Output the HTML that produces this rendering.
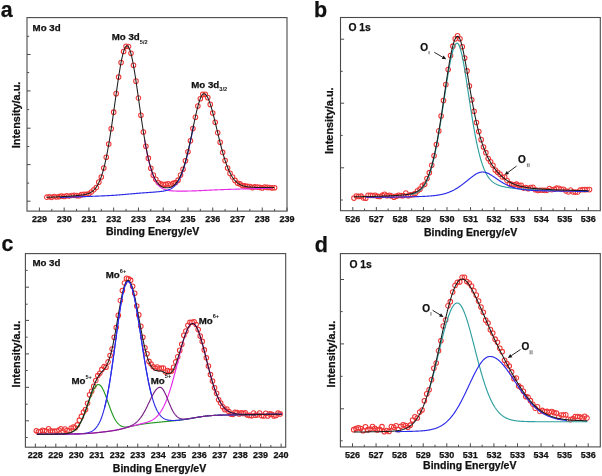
<!DOCTYPE html>
<html><head><meta charset="utf-8"><style>
html,body{margin:0;padding:0;background:#fff;width:602px;height:476px;overflow:hidden}
svg{display:block;filter:blur(0.35px)}
text{font-family:"Liberation Sans", sans-serif;font-weight:bold;fill:#111;stroke:#111;stroke-width:0.25px}
</style></head><body>
<svg width="602" height="476" viewBox="0 0 602 476">
<rect width="602" height="476" fill="#fff"/>
<rect x="27.00" y="17.60" width="260.00" height="193.50" fill="none" stroke="#4a4a4a" stroke-width="1.1"/>
<path d="M39.40,211.10 V207.50 M64.16,211.10 V207.50 M88.92,211.10 V207.50 M113.68,211.10 V207.50 M138.44,211.10 V207.50 M163.20,211.10 V207.50 M187.96,211.10 V207.50 M212.72,211.10 V207.50 M237.48,211.10 V207.50 M262.24,211.10 V207.50 M287.00,211.10 V207.50 M51.78,211.10 V208.90 M76.54,211.10 V208.90 M101.30,211.10 V208.90 M126.06,211.10 V208.90 M150.82,211.10 V208.90 M175.58,211.10 V208.90 M200.34,211.10 V208.90 M225.10,211.10 V208.90 M249.86,211.10 V208.90 M274.62,211.10 V208.90 M27.00,201.20 H30.60 M27.00,164.60 H30.60 M27.00,128.20 H30.60 M27.00,90.90 H30.60 M27.00,54.50 H30.60 M27.00,183.10 H29.20 M27.00,146.50 H29.20 M27.00,109.60 H29.20 M27.00,72.60 H29.20 M27.00,36.30 H29.20" stroke="#4a4a4a" stroke-width="1" fill="none"/>
<text x="0.80" y="16.90" font-size="21.30" text-anchor="start" >a</text>
<text x="39.40" y="222.30" font-size="9.00" text-anchor="middle" >229</text>
<text x="64.16" y="222.30" font-size="9.00" text-anchor="middle" >230</text>
<text x="88.92" y="222.30" font-size="9.00" text-anchor="middle" >231</text>
<text x="113.68" y="222.30" font-size="9.00" text-anchor="middle" >232</text>
<text x="138.44" y="222.30" font-size="9.00" text-anchor="middle" >233</text>
<text x="163.20" y="222.30" font-size="9.00" text-anchor="middle" >234</text>
<text x="187.96" y="222.30" font-size="9.00" text-anchor="middle" >235</text>
<text x="212.72" y="222.30" font-size="9.00" text-anchor="middle" >236</text>
<text x="237.48" y="222.30" font-size="9.00" text-anchor="middle" >237</text>
<text x="262.24" y="222.30" font-size="9.00" text-anchor="middle" >238</text>
<text x="287.00" y="222.30" font-size="9.00" text-anchor="middle" >239</text>
<text x="152.60" y="234.90" font-size="10.50" text-anchor="middle" >Binding Energy/eV</text>
<text x="0" y="0" font-size="10.90" text-anchor="middle" transform="translate(20.30,114.90) rotate(-90)">Intensity/a.u.</text>
<text x="32.60" y="30.60" font-size="9.70" text-anchor="start" >Mo 3d</text>
<text x="111.80" y="40.00" font-size="9.70" text-anchor="start" >Mo 3d<tspan font-size="5.6" stroke-width="0" dy="3.6">5/2</tspan></text>
<text x="191.30" y="87.50" font-size="9.70" text-anchor="start" >Mo 3d<tspan font-size="5.6" stroke-width="0" dy="3.4">3/2</tspan></text>
<path d="M44.53,197.18 a2.30,2.30 0 1,0 4.60,0 a2.30,2.30 0 1,0 -4.60,0 M47.00,196.86 a2.30,2.30 0 1,0 4.60,0 a2.30,2.30 0 1,0 -4.60,0 M49.48,197.34 a2.30,2.30 0 1,0 4.60,0 a2.30,2.30 0 1,0 -4.60,0 M51.96,196.52 a2.30,2.30 0 1,0 4.60,0 a2.30,2.30 0 1,0 -4.60,0 M54.43,196.95 a2.30,2.30 0 1,0 4.60,0 a2.30,2.30 0 1,0 -4.60,0 M56.91,196.62 a2.30,2.30 0 1,0 4.60,0 a2.30,2.30 0 1,0 -4.60,0 M59.38,196.12 a2.30,2.30 0 1,0 4.60,0 a2.30,2.30 0 1,0 -4.60,0 M61.86,196.52 a2.30,2.30 0 1,0 4.60,0 a2.30,2.30 0 1,0 -4.60,0 M64.34,195.80 a2.30,2.30 0 1,0 4.60,0 a2.30,2.30 0 1,0 -4.60,0 M66.81,196.12 a2.30,2.30 0 1,0 4.60,0 a2.30,2.30 0 1,0 -4.60,0 M69.29,195.52 a2.30,2.30 0 1,0 4.60,0 a2.30,2.30 0 1,0 -4.60,0 M71.76,195.36 a2.30,2.30 0 1,0 4.60,0 a2.30,2.30 0 1,0 -4.60,0 M74.24,195.55 a2.30,2.30 0 1,0 4.60,0 a2.30,2.30 0 1,0 -4.60,0 M76.72,195.79 a2.30,2.30 0 1,0 4.60,0 a2.30,2.30 0 1,0 -4.60,0 M79.19,194.64 a2.30,2.30 0 1,0 4.60,0 a2.30,2.30 0 1,0 -4.60,0 M81.67,194.36 a2.30,2.30 0 1,0 4.60,0 a2.30,2.30 0 1,0 -4.60,0 M84.14,194.27 a2.30,2.30 0 1,0 4.60,0 a2.30,2.30 0 1,0 -4.60,0 M86.62,193.79 a2.30,2.30 0 1,0 4.60,0 a2.30,2.30 0 1,0 -4.60,0 M89.10,192.05 a2.30,2.30 0 1,0 4.60,0 a2.30,2.30 0 1,0 -4.60,0 M91.57,189.85 a2.30,2.30 0 1,0 4.60,0 a2.30,2.30 0 1,0 -4.60,0 M94.05,187.58 a2.30,2.30 0 1,0 4.60,0 a2.30,2.30 0 1,0 -4.60,0 M96.52,182.13 a2.30,2.30 0 1,0 4.60,0 a2.30,2.30 0 1,0 -4.60,0 M99.00,177.01 a2.30,2.30 0 1,0 4.60,0 a2.30,2.30 0 1,0 -4.60,0 M101.48,168.07 a2.30,2.30 0 1,0 4.60,0 a2.30,2.30 0 1,0 -4.60,0 M103.95,157.20 a2.30,2.30 0 1,0 4.60,0 a2.30,2.30 0 1,0 -4.60,0 M106.43,143.96 a2.30,2.30 0 1,0 4.60,0 a2.30,2.30 0 1,0 -4.60,0 M108.90,128.70 a2.30,2.30 0 1,0 4.60,0 a2.30,2.30 0 1,0 -4.60,0 M111.38,112.17 a2.30,2.30 0 1,0 4.60,0 a2.30,2.30 0 1,0 -4.60,0 M113.86,93.63 a2.30,2.30 0 1,0 4.60,0 a2.30,2.30 0 1,0 -4.60,0 M116.33,77.07 a2.30,2.30 0 1,0 4.60,0 a2.30,2.30 0 1,0 -4.60,0 M118.81,62.46 a2.30,2.30 0 1,0 4.60,0 a2.30,2.30 0 1,0 -4.60,0 M121.28,51.46 a2.30,2.30 0 1,0 4.60,0 a2.30,2.30 0 1,0 -4.60,0 M123.76,46.35 a2.30,2.30 0 1,0 4.60,0 a2.30,2.30 0 1,0 -4.60,0 M126.24,46.55 a2.30,2.30 0 1,0 4.60,0 a2.30,2.30 0 1,0 -4.60,0 M128.71,53.32 a2.30,2.30 0 1,0 4.60,0 a2.30,2.30 0 1,0 -4.60,0 M131.19,65.28 a2.30,2.30 0 1,0 4.60,0 a2.30,2.30 0 1,0 -4.60,0 M133.66,81.14 a2.30,2.30 0 1,0 4.60,0 a2.30,2.30 0 1,0 -4.60,0 M136.14,97.97 a2.30,2.30 0 1,0 4.60,0 a2.30,2.30 0 1,0 -4.60,0 M138.62,115.24 a2.30,2.30 0 1,0 4.60,0 a2.30,2.30 0 1,0 -4.60,0 M141.09,131.95 a2.30,2.30 0 1,0 4.60,0 a2.30,2.30 0 1,0 -4.60,0 M143.57,146.27 a2.30,2.30 0 1,0 4.60,0 a2.30,2.30 0 1,0 -4.60,0 M146.04,158.16 a2.30,2.30 0 1,0 4.60,0 a2.30,2.30 0 1,0 -4.60,0 M148.52,168.25 a2.30,2.30 0 1,0 4.60,0 a2.30,2.30 0 1,0 -4.60,0 M151.00,175.15 a2.30,2.30 0 1,0 4.60,0 a2.30,2.30 0 1,0 -4.60,0 M153.47,179.36 a2.30,2.30 0 1,0 4.60,0 a2.30,2.30 0 1,0 -4.60,0 M155.95,182.55 a2.30,2.30 0 1,0 4.60,0 a2.30,2.30 0 1,0 -4.60,0 M158.42,183.76 a2.30,2.30 0 1,0 4.60,0 a2.30,2.30 0 1,0 -4.60,0 M160.90,184.49 a2.30,2.30 0 1,0 4.60,0 a2.30,2.30 0 1,0 -4.60,0 M163.38,184.31 a2.30,2.30 0 1,0 4.60,0 a2.30,2.30 0 1,0 -4.60,0 M165.85,183.85 a2.30,2.30 0 1,0 4.60,0 a2.30,2.30 0 1,0 -4.60,0 M168.33,184.77 a2.30,2.30 0 1,0 4.60,0 a2.30,2.30 0 1,0 -4.60,0 M170.80,183.41 a2.30,2.30 0 1,0 4.60,0 a2.30,2.30 0 1,0 -4.60,0 M173.28,182.46 a2.30,2.30 0 1,0 4.60,0 a2.30,2.30 0 1,0 -4.60,0 M175.76,180.16 a2.30,2.30 0 1,0 4.60,0 a2.30,2.30 0 1,0 -4.60,0 M178.23,175.06 a2.30,2.30 0 1,0 4.60,0 a2.30,2.30 0 1,0 -4.60,0 M180.71,169.28 a2.30,2.30 0 1,0 4.60,0 a2.30,2.30 0 1,0 -4.60,0 M183.18,160.72 a2.30,2.30 0 1,0 4.60,0 a2.30,2.30 0 1,0 -4.60,0 M185.66,151.73 a2.30,2.30 0 1,0 4.60,0 a2.30,2.30 0 1,0 -4.60,0 M188.14,140.70 a2.30,2.30 0 1,0 4.60,0 a2.30,2.30 0 1,0 -4.60,0 M190.61,128.58 a2.30,2.30 0 1,0 4.60,0 a2.30,2.30 0 1,0 -4.60,0 M193.09,117.21 a2.30,2.30 0 1,0 4.60,0 a2.30,2.30 0 1,0 -4.60,0 M195.56,106.11 a2.30,2.30 0 1,0 4.60,0 a2.30,2.30 0 1,0 -4.60,0 M198.04,98.71 a2.30,2.30 0 1,0 4.60,0 a2.30,2.30 0 1,0 -4.60,0 M200.52,94.40 a2.30,2.30 0 1,0 4.60,0 a2.30,2.30 0 1,0 -4.60,0 M202.99,94.35 a2.30,2.30 0 1,0 4.60,0 a2.30,2.30 0 1,0 -4.60,0 M205.47,97.62 a2.30,2.30 0 1,0 4.60,0 a2.30,2.30 0 1,0 -4.60,0 M207.94,104.40 a2.30,2.30 0 1,0 4.60,0 a2.30,2.30 0 1,0 -4.60,0 M210.42,113.02 a2.30,2.30 0 1,0 4.60,0 a2.30,2.30 0 1,0 -4.60,0 M212.90,122.28 a2.30,2.30 0 1,0 4.60,0 a2.30,2.30 0 1,0 -4.60,0 M215.37,132.84 a2.30,2.30 0 1,0 4.60,0 a2.30,2.30 0 1,0 -4.60,0 M217.85,142.25 a2.30,2.30 0 1,0 4.60,0 a2.30,2.30 0 1,0 -4.60,0 M220.32,152.41 a2.30,2.30 0 1,0 4.60,0 a2.30,2.30 0 1,0 -4.60,0 M222.80,160.61 a2.30,2.30 0 1,0 4.60,0 a2.30,2.30 0 1,0 -4.60,0 M225.28,167.98 a2.30,2.30 0 1,0 4.60,0 a2.30,2.30 0 1,0 -4.60,0 M227.75,173.38 a2.30,2.30 0 1,0 4.60,0 a2.30,2.30 0 1,0 -4.60,0 M230.23,177.07 a2.30,2.30 0 1,0 4.60,0 a2.30,2.30 0 1,0 -4.60,0 M232.70,180.43 a2.30,2.30 0 1,0 4.60,0 a2.30,2.30 0 1,0 -4.60,0 M235.18,183.10 a2.30,2.30 0 1,0 4.60,0 a2.30,2.30 0 1,0 -4.60,0 M237.66,183.95 a2.30,2.30 0 1,0 4.60,0 a2.30,2.30 0 1,0 -4.60,0 M240.13,185.57 a2.30,2.30 0 1,0 4.60,0 a2.30,2.30 0 1,0 -4.60,0 M242.61,185.94 a2.30,2.30 0 1,0 4.60,0 a2.30,2.30 0 1,0 -4.60,0 M245.08,186.33 a2.30,2.30 0 1,0 4.60,0 a2.30,2.30 0 1,0 -4.60,0 M247.56,186.55 a2.30,2.30 0 1,0 4.60,0 a2.30,2.30 0 1,0 -4.60,0 M250.04,187.58 a2.30,2.30 0 1,0 4.60,0 a2.30,2.30 0 1,0 -4.60,0 M252.51,186.92 a2.30,2.30 0 1,0 4.60,0 a2.30,2.30 0 1,0 -4.60,0 M254.99,187.12 a2.30,2.30 0 1,0 4.60,0 a2.30,2.30 0 1,0 -4.60,0 M257.46,187.33 a2.30,2.30 0 1,0 4.60,0 a2.30,2.30 0 1,0 -4.60,0 M259.94,187.92 a2.30,2.30 0 1,0 4.60,0 a2.30,2.30 0 1,0 -4.60,0 M262.42,186.97 a2.30,2.30 0 1,0 4.60,0 a2.30,2.30 0 1,0 -4.60,0 M264.89,187.40 a2.30,2.30 0 1,0 4.60,0 a2.30,2.30 0 1,0 -4.60,0 M267.37,187.50 a2.30,2.30 0 1,0 4.60,0 a2.30,2.30 0 1,0 -4.60,0 M269.84,187.88 a2.30,2.30 0 1,0 4.60,0 a2.30,2.30 0 1,0 -4.60,0 M272.32,187.78 a2.30,2.30 0 1,0 4.60,0 a2.30,2.30 0 1,0 -4.60,0" fill="none" stroke="#ee3535" stroke-width="1.05"/>
<path d="M144.60,139.91 L145.10,142.81 L145.60,145.62 L146.10,148.33 L146.60,150.93 L147.10,153.44 L147.60,155.84 L148.10,158.14 L148.60,160.34 L149.10,162.43 L149.60,164.42 L150.10,166.31 L150.60,168.10 L151.10,169.79 L151.60,171.39 L152.10,172.89 L152.60,174.31 L153.10,175.63 L153.60,176.87 L154.10,178.03 L154.60,179.11 L155.10,180.12 L155.60,181.06 L156.10,181.93 L156.60,182.73 L157.10,183.48 L157.60,184.17 L158.10,184.80 L158.60,185.38 L159.10,185.92 L159.60,186.41 L160.10,186.86 L160.60,187.27 L161.10,187.65 L161.60,187.99 L162.10,188.30 L162.60,188.59 L163.10,188.85 L163.60,189.08 L164.10,189.29 L164.60,189.48 L165.10,189.66 L165.60,189.81 L166.10,189.96 L166.60,190.08 L167.10,190.20 L167.60,190.30 L168.10,190.39 L168.60,190.48 L169.10,190.55 L169.60,190.62 L170.10,190.68 L170.60,190.73 L171.10,190.78 L171.60,190.82 L172.10,190.86 L172.60,190.89 L173.10,190.92 L173.60,190.95 L174.10,190.97 L174.60,190.99 L175.10,191.01 L175.60,191.03 L176.10,191.04 L176.60,191.06 L177.10,191.07 L177.60,191.07 L178.10,191.08 L178.60,191.09 L179.10,191.09 L179.60,191.10 L180.10,191.10 L180.60,191.10 L181.10,191.10 L181.60,191.10 L182.10,191.10 L182.60,191.10 L183.10,191.10 L183.60,191.10 L184.10,191.09 L184.60,191.09 L185.10,191.08 L185.60,191.08 L186.10,191.07 L186.60,191.06 L187.10,191.06 L187.60,191.05 L188.10,191.04 L188.60,191.03 L189.10,191.02 L189.60,191.01 L190.10,191.00 L190.60,190.98 L191.10,190.97 L191.60,190.96 L192.10,190.94 L192.60,190.93 L193.10,190.91 L193.60,190.89 L194.10,190.88 L194.60,190.86 L195.10,190.84 L195.60,190.82 L196.10,190.81 L196.60,190.79 L197.10,190.77 L197.60,190.75 L198.10,190.72 L198.60,190.70 L199.10,190.68 L199.60,190.66 L200.10,190.64 L200.60,190.61 L201.10,190.59 L201.60,190.57 L202.10,190.54 L202.60,190.52 L203.10,190.49 L203.60,190.47 L204.10,190.44 L204.60,190.42 L205.10,190.39 L205.60,190.37 L206.10,190.34 L206.60,190.32 L207.10,190.29 L207.60,190.27 L208.10,190.24 L208.60,190.22 L209.10,190.19 L209.60,190.17 L210.10,190.14 L210.60,190.12 L211.10,190.10 L211.60,190.07 L212.10,190.05 L212.60,190.02 L213.10,190.00 L213.60,189.98 L214.10,189.96 L214.60,189.93 L215.10,189.91 L215.60,189.89 L216.10,189.87 L216.60,189.84 L217.10,189.82 L217.60,189.80 L218.10,189.78 L218.60,189.76 L219.10,189.74 L219.60,189.72 L220.10,189.70 L220.60,189.68 L221.10,189.66 L221.60,189.64 L222.10,189.62 L222.60,189.60 L223.10,189.59 L223.60,189.57 L224.10,189.55 L224.60,189.53 L225.10,189.52 L225.60,189.50 L226.10,189.48 L226.60,189.46 L227.10,189.45 L227.60,189.43 L228.10,189.41 L228.60,189.40 L229.10,189.38 L229.60,189.37 L230.10,189.35 L230.60,189.34 L231.10,189.32 L231.60,189.30 L232.10,189.29 L232.60,189.27 L233.10,189.26 L233.60,189.24 L234.10,189.23 L234.60,189.21 L235.10,189.20 L235.60,189.18 L236.10,189.17 L236.60,189.15 L237.10,189.14 L237.60,189.12 L238.10,189.11 L238.60,189.10 L239.10,189.08 L239.60,189.07 L240.10,189.05 L240.60,189.04 L241.10,189.02 L241.60,189.01 L242.10,188.99 L242.60,188.98 L243.10,188.97 L243.60,188.95 L244.10,188.94 L244.60,188.92 L245.10,188.91 L245.60,188.89 L246.10,188.88 L246.60,188.86 L247.10,188.85 L247.60,188.83 L248.10,188.82 L248.60,188.81 L249.10,188.79 L249.60,188.78 L250.10,188.76 L250.60,188.75 L251.10,188.73 L251.60,188.72 L252.10,188.70 L252.60,188.69 L253.10,188.67 L253.60,188.66 L254.10,188.65 L254.60,188.63 L255.10,188.62 L255.60,188.60 L256.10,188.59 L256.60,188.57 L257.10,188.56 L257.60,188.54 L258.10,188.53 L258.60,188.51 L259.10,188.50 L259.60,188.48 L260.10,188.47 L260.60,188.45 L261.10,188.44 L261.60,188.42 L262.10,188.41 L262.60,188.39 L263.10,188.38 L263.60,188.36 L264.10,188.35 L264.60,188.34 L265.10,188.32 L265.60,188.31 L266.10,188.29 L266.60,188.28 L267.10,188.26 L267.60,188.25 L268.10,188.23 L268.60,188.22 L269.10,188.20 L269.60,188.19 L270.10,188.17 L270.60,188.16 L271.10,188.14 L271.60,188.13" fill="none" stroke="#e82ae8" stroke-width="1.15" stroke-linejoin="round"/>
<path d="M60.10,197.44 L60.60,197.42 L61.10,197.41 L61.60,197.39 L62.10,197.37 L62.60,197.36 L63.10,197.34 L63.60,197.32 L64.10,197.30 L64.60,197.29 L65.10,197.27 L65.60,197.25 L66.10,197.24 L66.60,197.22 L67.10,197.20 L67.60,197.18 L68.10,197.17 L68.60,197.15 L69.10,197.13 L69.60,197.12 L70.10,197.10 L70.60,197.08 L71.10,197.06 L71.60,197.05 L72.10,197.03 L72.60,197.01 L73.10,197.00 L73.60,196.98 L74.10,196.96 L74.60,196.94 L75.10,196.93 L75.60,196.91 L76.10,196.89 L76.60,196.87 L77.10,196.86 L77.60,196.84 L78.10,196.82 L78.60,196.80 L79.10,196.79 L79.60,196.77 L80.10,196.75 L80.60,196.73 L81.10,196.72 L81.60,196.70 L82.10,196.68 L82.60,196.66 L83.10,196.65 L83.60,196.63 L84.10,196.61 L84.60,196.59 L85.10,196.57 L85.60,196.56 L86.10,196.54 L86.60,196.52 L87.10,196.50 L87.60,196.48 L88.10,196.47 L88.60,196.45 L89.10,196.43 L89.60,196.41 L90.10,196.39 L90.60,196.38 L91.10,196.36 L91.60,196.34 L92.10,196.32 L92.60,196.30 L93.10,196.28 L93.60,196.26 L94.10,196.25 L94.60,196.23 L95.10,196.21 L95.60,196.19 L96.10,196.17 L96.60,196.15 L97.10,196.13 L97.60,196.11 L98.10,196.09 L98.60,196.07 L99.10,196.05 L99.60,196.03 L100.10,196.01 L100.60,195.99 L101.10,195.97 L101.60,195.94 L102.10,195.92 L102.60,195.90 L103.10,195.88 L103.60,195.86 L104.10,195.83 L104.60,195.81 L105.10,195.79 L105.60,195.76 L106.10,195.74 L106.60,195.71 L107.10,195.69 L107.60,195.66 L108.10,195.64 L108.60,195.61 L109.10,195.58 L109.60,195.55 L110.10,195.53 L110.60,195.50 L111.10,195.47 L111.60,195.44 L112.10,195.41 L112.60,195.38 L113.10,195.34 L113.60,195.31 L114.10,195.28 L114.60,195.25 L115.10,195.21 L115.60,195.18 L116.10,195.14 L116.60,195.11 L117.10,195.07 L117.60,195.03 L118.10,194.99 L118.60,194.95 L119.10,194.92 L119.60,194.88 L120.10,194.84 L120.60,194.80 L121.10,194.75 L121.60,194.71 L122.10,194.67 L122.60,194.63 L123.10,194.58 L123.60,194.54 L124.10,194.50 L124.60,194.45 L125.10,194.41 L125.60,194.36 L126.10,194.32 L126.60,194.27 L127.10,194.23 L127.60,194.18 L128.10,194.14 L128.60,194.09 L129.10,194.05 L129.60,194.00 L130.10,193.96 L130.60,193.91 L131.10,193.87 L131.60,193.83 L132.10,193.78 L132.60,193.74 L133.10,193.69 L133.60,193.65 L134.10,193.61 L134.60,193.56 L135.10,193.52 L135.60,193.48 L136.10,193.44 L136.60,193.40 L137.10,193.35 L137.60,193.31 L138.10,193.27 L138.60,193.23 L139.10,193.19 L139.60,193.16 L140.10,193.12 L140.60,193.08 L141.10,193.04 L141.60,193.00 L142.10,192.97 L142.60,192.93 L143.10,192.89 L143.60,192.86 L144.10,192.82 L144.60,192.78 L145.10,192.75 L145.60,192.71 L146.10,192.68 L146.60,192.64 L147.10,192.61 L147.60,192.57 L148.10,192.53 L148.60,192.50 L149.10,192.46 L149.60,192.43 L150.10,192.39 L150.60,192.36 L151.10,192.32 L151.60,192.28 L152.10,192.25 L152.60,192.21 L153.10,192.17 L153.60,192.14 L154.10,192.10 L154.60,192.06 L155.10,192.02 L155.60,191.98 L156.10,191.94 L156.60,191.89 L157.10,191.85 L157.60,191.80 L158.10,191.76 L158.60,191.71 L159.10,191.66 L159.60,191.60 L160.10,191.55 L160.60,191.49 L161.10,191.43 L161.60,191.36 L162.10,191.29 L162.60,191.22 L163.10,191.14 L163.60,191.06 L164.10,190.97 L164.60,190.88 L165.10,190.77 L165.60,190.66 L166.10,190.55 L166.60,190.42 L167.10,190.28 L167.60,190.13 L168.10,189.96 L168.60,189.79 L169.10,189.59 L169.60,189.38 L170.10,189.15 L170.60,188.91 L171.10,188.64 L171.60,188.34 L172.10,188.02 L172.60,187.68 L173.10,187.30 L173.60,186.90 L174.10,186.46 L174.60,185.98 L175.10,185.47 L175.60,184.91 L176.10,184.31 L176.60,183.67 L177.10,182.98 L177.60,182.23 L178.10,181.44 L178.60,180.58 L179.10,179.67 L179.60,178.70 L180.10,177.67 L180.60,176.57 L181.10,175.41 L181.60,174.18 L182.10,172.88 L182.60,171.51 L183.10,170.07 L183.60,168.55 L184.10,166.97 L184.60,165.31 L185.10,163.58 L185.60,161.77 L186.10,159.90 L186.60,157.96 L187.10,155.96 L187.60,153.89 L188.10,151.76 L188.60,149.58 L189.10,147.35 L189.60,145.06 L190.10,142.74 L190.60,140.38 L191.10,137.99 L191.60,135.58 L192.10,133.16 L192.60,130.72 L193.10,128.29 L193.60,125.87" fill="none" stroke="#2a2ae8" stroke-width="1.15" stroke-linejoin="round"/>
<path d="M46.60,197.40 L47.10,197.38 L47.60,197.35 L48.10,197.33 L48.60,197.31 L49.10,197.28 L49.60,197.26 L50.10,197.24 L50.60,197.21 L51.10,197.19 L51.60,197.17 L52.10,197.14 L52.60,197.12 L53.10,197.09 L53.60,197.07 L54.10,197.04 L54.60,197.02 L55.10,196.99 L55.60,196.97 L56.10,196.94 L56.60,196.92 L57.10,196.89 L57.60,196.87 L58.10,196.84 L58.60,196.81 L59.10,196.79 L59.60,196.76 L60.10,196.73 L60.60,196.71 L61.10,196.68 L61.60,196.65 L62.10,196.62 L62.60,196.60 L63.10,196.57 L63.60,196.54 L64.10,196.51 L64.60,196.48 L65.10,196.45 L65.60,196.42 L66.10,196.39 L66.60,196.36 L67.10,196.33 L67.60,196.30 L68.10,196.27 L68.60,196.23 L69.10,196.20 L69.60,196.17 L70.10,196.14 L70.60,196.10 L71.10,196.07 L71.60,196.03 L72.10,196.00 L72.60,195.96 L73.10,195.92 L73.60,195.88 L74.10,195.85 L74.60,195.81 L75.10,195.77 L75.60,195.72 L76.10,195.68 L76.60,195.64 L77.10,195.59 L77.60,195.54 L78.10,195.49 L78.60,195.44 L79.10,195.39 L79.60,195.33 L80.10,195.27 L80.60,195.21 L81.10,195.15 L81.60,195.08 L82.10,195.01 L82.60,194.93 L83.10,194.85 L83.60,194.76 L84.10,194.66 L84.60,194.56 L85.10,194.45 L85.60,194.33 L86.10,194.21 L86.60,194.07 L87.10,193.92 L87.60,193.76 L88.10,193.58 L88.60,193.39 L89.10,193.18 L89.60,192.95 L90.10,192.71 L90.60,192.44 L91.10,192.14 L91.60,191.82 L92.10,191.47 L92.60,191.10 L93.10,190.68 L93.60,190.24 L94.10,189.75 L94.60,189.22 L95.10,188.65 L95.60,188.03 L96.10,187.36 L96.60,186.64 L97.10,185.86 L97.60,185.02 L98.10,184.12 L98.60,183.14 L99.10,182.10 L99.60,180.99 L100.10,179.79 L100.60,178.52 L101.10,177.16 L101.60,175.71 L102.10,174.18 L102.60,172.55 L103.10,170.82 L103.60,169.00 L104.10,167.08 L104.60,165.06 L105.10,162.93 L105.60,160.70 L106.10,158.37 L106.60,155.93 L107.10,153.39 L107.60,150.75 L108.10,148.01 L108.60,145.17 L109.10,142.24 L109.60,139.21 L110.10,136.10 L110.60,132.90 L111.10,129.63 L111.60,126.29 L112.10,122.88 L112.60,119.42 L113.10,115.91 L113.60,112.36 L114.10,108.79 L114.60,105.19 L115.10,101.59 L115.60,97.99 L116.10,94.41 L116.60,90.86 L117.10,87.34 L117.60,83.88 L118.10,80.49 L118.60,77.18 L119.10,73.97 L119.60,70.86 L120.10,67.88 L120.60,65.03 L121.10,62.33 L121.60,59.80 L122.10,57.44 L122.60,55.28 L123.10,53.31 L123.60,51.55 L124.10,50.02 L124.60,48.71 L125.10,47.64 L125.60,46.82 L126.10,46.24 L126.60,45.92 L127.10,45.85 L127.60,46.04 L128.10,46.47 L128.60,47.16 L129.10,48.10 L129.60,49.28 L130.10,50.69 L130.60,52.32 L131.10,54.17 L131.60,56.23 L132.10,58.48 L132.60,60.90 L133.10,63.50 L133.60,66.25 L134.10,69.14 L134.60,72.16 L135.10,75.29 L135.60,78.51 L136.10,81.83 L136.60,85.21 L137.10,88.65 L137.60,92.14 L138.10,95.65 L138.60,99.19 L139.10,102.73 L139.60,106.27 L140.10,109.78 L140.60,113.28 L141.10,116.73 L141.60,120.14 L142.10,123.50 L142.60,126.79 L143.10,130.01 L143.60,133.16 L144.10,136.23 L144.60,139.21 L145.10,142.10 L145.60,144.89 L146.10,147.59 L146.60,150.18 L147.10,152.68 L147.60,155.07 L148.10,157.35 L148.60,159.53 L149.10,161.61 L149.60,163.59 L150.10,165.46 L150.60,167.24 L151.10,168.91 L151.60,170.49 L152.10,171.98 L152.60,173.37 L153.10,174.68 L153.60,175.90 L154.10,177.04 L154.60,178.10 L155.10,179.09 L155.60,180.00 L156.10,180.85 L156.60,181.63 L157.10,182.35 L157.60,183.01 L158.10,183.61 L158.60,184.16 L159.10,184.66 L159.60,185.12 L160.10,185.53 L160.60,185.90 L161.10,186.23 L161.60,186.53 L162.10,186.79 L162.60,187.02 L163.10,187.22 L163.60,187.38 L164.10,187.52 L164.60,187.64 L165.10,187.73 L165.60,187.79 L166.10,187.83 L166.60,187.84 L167.10,187.84 L167.60,187.80 L168.10,187.75 L168.60,187.67 L169.10,187.57 L169.60,187.44 L170.10,187.29 L170.60,187.11 L171.10,186.91 L171.60,186.67 L172.10,186.41 L172.60,186.12 L173.10,185.79 L173.60,185.43 L174.10,185.03 L174.60,184.59 L175.10,184.11 L175.60,183.59 L176.10,183.02 L176.60,182.41 L177.10,181.74 L177.60,181.03 L178.10,180.25 L178.60,179.43 L179.10,178.54 L179.60,177.59 L180.10,176.58 L180.60,175.50 L181.10,174.36 L181.60,173.15 L182.10,171.87 L182.60,170.51 L183.10,169.09 L183.60,167.59 L184.10,166.02 L184.60,164.38 L185.10,162.66 L185.60,160.88 L186.10,159.02 L186.60,157.09 L187.10,155.10 L187.60,153.05 L188.10,150.93 L188.60,148.76 L189.10,146.54 L189.60,144.27 L190.10,141.96 L190.60,139.61 L191.10,137.24 L191.60,134.84 L192.10,132.42 L192.60,130.00 L193.10,127.58 L193.60,125.16 L194.10,122.77 L194.60,120.40 L195.10,118.07 L195.60,115.79 L196.10,113.56 L196.60,111.41 L197.10,109.33 L197.60,107.34 L198.10,105.45 L198.60,103.66 L199.10,102.00 L199.60,100.47 L200.10,99.08 L200.60,97.83 L201.10,96.74 L201.60,95.81 L202.10,95.05 L202.60,94.46 L203.10,94.05 L203.60,93.82 L204.10,93.77 L204.60,93.87 L205.10,94.11 L205.60,94.49 L206.10,95.00 L206.60,95.65 L207.10,96.43 L207.60,97.33 L208.10,98.36 L208.60,99.50 L209.10,100.75 L209.60,102.10 L210.10,103.55 L210.60,105.09 L211.10,106.72 L211.60,108.42 L212.10,110.20 L212.60,112.03 L213.10,113.93 L213.60,115.87 L214.10,117.85 L214.60,119.87 L215.10,121.91 L215.60,123.98 L216.10,126.06 L216.60,128.16 L217.10,130.25 L217.60,132.34 L218.10,134.43 L218.60,136.50 L219.10,138.56 L219.60,140.59 L220.10,142.59 L220.60,144.57 L221.10,146.50 L221.60,148.41 L222.10,150.27 L222.60,152.08 L223.10,153.85 L223.60,155.57 L224.10,157.25 L224.60,158.87 L225.10,160.43 L225.60,161.95 L226.10,163.40 L226.60,164.81 L227.10,166.15 L227.60,167.45 L228.10,168.68 L228.60,169.87 L229.10,170.99 L229.60,172.07 L230.10,173.09 L230.60,174.06 L231.10,174.98 L231.60,175.85 L232.10,176.67 L232.60,177.44 L233.10,178.17 L233.60,178.86 L234.10,179.51 L234.60,180.11 L235.10,180.68 L235.60,181.21 L236.10,181.70 L236.60,182.17 L237.10,182.60 L237.60,183.00 L238.10,183.37 L238.60,183.71 L239.10,184.03 L239.60,184.33 L240.10,184.60 L240.60,184.85 L241.10,185.09 L241.60,185.30 L242.10,185.50 L242.60,185.68 L243.10,185.84 L243.60,186.00 L244.10,186.14 L244.60,186.26 L245.10,186.38 L245.60,186.49 L246.10,186.58 L246.60,186.67 L247.10,186.75 L247.60,186.83 L248.10,186.89 L248.60,186.95 L249.10,187.01 L249.60,187.06 L250.10,187.10 L250.60,187.14 L251.10,187.18 L251.60,187.22 L252.10,187.25 L252.60,187.27 L253.10,187.30 L253.60,187.32 L254.10,187.34 L254.60,187.36 L255.10,187.37 L255.60,187.39 L256.10,187.40 L256.60,187.41 L257.10,187.42 L257.60,187.43 L258.10,187.44 L258.60,187.44 L259.10,187.45 L259.60,187.46 L260.10,187.46 L260.60,187.46 L261.10,187.47 L261.60,187.47 L262.10,187.47 L262.60,187.47 L263.10,187.47 L263.60,187.47 L264.10,187.47 L264.60,187.47 L265.10,187.47 L265.60,187.47 L266.10,187.47 L266.60,187.46 L267.10,187.46 L267.60,187.46 L268.10,187.45 L268.60,187.45 L269.10,187.45 L269.60,187.44 L270.10,187.44 L270.60,187.43 L271.10,187.43 L271.60,187.42 L272.10,187.42 L272.60,187.41 L273.10,187.41 L273.60,187.40 L274.10,187.40" fill="none" stroke="#1c1c1c" stroke-width="1.05" stroke-linejoin="round"/>
<rect x="340.50" y="17.50" width="259.80" height="193.20" fill="none" stroke="#4a4a4a" stroke-width="1.1"/>
<path d="M352.80,210.70 V207.10 M376.35,210.70 V207.10 M399.90,210.70 V207.10 M423.45,210.70 V207.10 M447.00,210.70 V207.10 M470.55,210.70 V207.10 M494.10,210.70 V207.10 M517.65,210.70 V207.10 M541.20,210.70 V207.10 M564.75,210.70 V207.10 M588.30,210.70 V207.10 M364.57,210.70 V208.50 M388.12,210.70 V208.50 M411.68,210.70 V208.50 M435.23,210.70 V208.50 M458.78,210.70 V208.50 M482.33,210.70 V208.50 M505.88,210.70 V208.50 M529.42,210.70 V208.50 M552.98,210.70 V208.50 M576.52,210.70 V208.50 M340.50,39.20 H344.10 M340.50,103.20 H344.10 M340.50,167.80 H344.10 M340.50,71.30 H342.70 M340.50,135.40 H342.70 M340.50,200.00 H342.70" stroke="#4a4a4a" stroke-width="1" fill="none"/>
<text x="313.90" y="17.30" font-size="21.50" text-anchor="start" >b</text>
<text x="352.80" y="221.70" font-size="9.00" text-anchor="middle" >526</text>
<text x="376.35" y="221.70" font-size="9.00" text-anchor="middle" >527</text>
<text x="399.90" y="221.70" font-size="9.00" text-anchor="middle" >528</text>
<text x="423.45" y="221.70" font-size="9.00" text-anchor="middle" >529</text>
<text x="447.00" y="221.70" font-size="9.00" text-anchor="middle" >530</text>
<text x="470.55" y="221.70" font-size="9.00" text-anchor="middle" >531</text>
<text x="494.10" y="221.70" font-size="9.00" text-anchor="middle" >532</text>
<text x="517.65" y="221.70" font-size="9.00" text-anchor="middle" >533</text>
<text x="541.20" y="221.70" font-size="9.00" text-anchor="middle" >534</text>
<text x="564.75" y="221.70" font-size="9.00" text-anchor="middle" >535</text>
<text x="588.30" y="221.70" font-size="9.00" text-anchor="middle" >536</text>
<text x="470.70" y="236.30" font-size="10.50" text-anchor="middle" >Binding Energy/eV</text>
<text x="0" y="0" font-size="10.90" text-anchor="middle" transform="translate(333.20,120.70) rotate(-90)">Intensity/a.u.</text>
<text x="348.40" y="31.30" font-size="10.30" text-anchor="start" >O 1s</text>
<text x="420.20" y="50.90" font-size="10.00" text-anchor="start" >O</text>
<path d="M429.05,51.00 V54.30" stroke="#707070" stroke-width="1.0" fill="none"/>
<text x="517.90" y="163.30" font-size="10.00" text-anchor="start" >O</text>
<path d="M527.42,163.70 V166.70 M529.08,163.70 V166.70" stroke="#666" stroke-width="0.9" fill="none"/>
<path d="M526.60,163.70 H529.90 M526.60,166.70 H529.90" stroke="#999" stroke-width="0.5" fill="none"/>
<path d="M434.30,52.30 L442.67,57.18" stroke="#111" stroke-width="0.9"/>
<path d="M446.30,59.30 L441.71,58.82 L443.63,55.54 Z" fill="#111"/>
<path d="M516.50,166.10 L507.87,172.50" stroke="#111" stroke-width="0.9"/>
<path d="M504.50,175.00 L506.74,170.97 L509.01,174.02 Z" fill="#111"/>
<path d="M351.68,198.10 a2.30,2.30 0 1,0 4.60,0 a2.30,2.30 0 1,0 -4.60,0 M354.03,195.96 a2.30,2.30 0 1,0 4.60,0 a2.30,2.30 0 1,0 -4.60,0 M356.39,196.41 a2.30,2.30 0 1,0 4.60,0 a2.30,2.30 0 1,0 -4.60,0 M358.74,196.17 a2.30,2.30 0 1,0 4.60,0 a2.30,2.30 0 1,0 -4.60,0 M361.10,198.02 a2.30,2.30 0 1,0 4.60,0 a2.30,2.30 0 1,0 -4.60,0 M363.45,198.23 a2.30,2.30 0 1,0 4.60,0 a2.30,2.30 0 1,0 -4.60,0 M365.81,195.28 a2.30,2.30 0 1,0 4.60,0 a2.30,2.30 0 1,0 -4.60,0 M368.16,195.32 a2.30,2.30 0 1,0 4.60,0 a2.30,2.30 0 1,0 -4.60,0 M370.52,195.46 a2.30,2.30 0 1,0 4.60,0 a2.30,2.30 0 1,0 -4.60,0 M372.87,195.40 a2.30,2.30 0 1,0 4.60,0 a2.30,2.30 0 1,0 -4.60,0 M375.23,196.24 a2.30,2.30 0 1,0 4.60,0 a2.30,2.30 0 1,0 -4.60,0 M377.58,196.54 a2.30,2.30 0 1,0 4.60,0 a2.30,2.30 0 1,0 -4.60,0 M379.94,195.29 a2.30,2.30 0 1,0 4.60,0 a2.30,2.30 0 1,0 -4.60,0 M382.29,194.27 a2.30,2.30 0 1,0 4.60,0 a2.30,2.30 0 1,0 -4.60,0 M384.65,195.67 a2.30,2.30 0 1,0 4.60,0 a2.30,2.30 0 1,0 -4.60,0 M387.00,195.39 a2.30,2.30 0 1,0 4.60,0 a2.30,2.30 0 1,0 -4.60,0 M389.36,195.98 a2.30,2.30 0 1,0 4.60,0 a2.30,2.30 0 1,0 -4.60,0 M391.71,197.25 a2.30,2.30 0 1,0 4.60,0 a2.30,2.30 0 1,0 -4.60,0 M394.07,196.17 a2.30,2.30 0 1,0 4.60,0 a2.30,2.30 0 1,0 -4.60,0 M396.42,195.38 a2.30,2.30 0 1,0 4.60,0 a2.30,2.30 0 1,0 -4.60,0 M398.78,195.56 a2.30,2.30 0 1,0 4.60,0 a2.30,2.30 0 1,0 -4.60,0 M401.13,195.56 a2.30,2.30 0 1,0 4.60,0 a2.30,2.30 0 1,0 -4.60,0 M403.49,193.06 a2.30,2.30 0 1,0 4.60,0 a2.30,2.30 0 1,0 -4.60,0 M405.84,195.76 a2.30,2.30 0 1,0 4.60,0 a2.30,2.30 0 1,0 -4.60,0 M408.20,194.89 a2.30,2.30 0 1,0 4.60,0 a2.30,2.30 0 1,0 -4.60,0 M410.55,194.63 a2.30,2.30 0 1,0 4.60,0 a2.30,2.30 0 1,0 -4.60,0 M412.91,193.50 a2.30,2.30 0 1,0 4.60,0 a2.30,2.30 0 1,0 -4.60,0 M415.26,190.84 a2.30,2.30 0 1,0 4.60,0 a2.30,2.30 0 1,0 -4.60,0 M417.62,189.16 a2.30,2.30 0 1,0 4.60,0 a2.30,2.30 0 1,0 -4.60,0 M419.97,185.70 a2.30,2.30 0 1,0 4.60,0 a2.30,2.30 0 1,0 -4.60,0 M422.33,184.29 a2.30,2.30 0 1,0 4.60,0 a2.30,2.30 0 1,0 -4.60,0 M424.68,178.61 a2.30,2.30 0 1,0 4.60,0 a2.30,2.30 0 1,0 -4.60,0 M427.04,172.67 a2.30,2.30 0 1,0 4.60,0 a2.30,2.30 0 1,0 -4.60,0 M429.39,165.26 a2.30,2.30 0 1,0 4.60,0 a2.30,2.30 0 1,0 -4.60,0 M431.75,155.70 a2.30,2.30 0 1,0 4.60,0 a2.30,2.30 0 1,0 -4.60,0 M434.10,144.57 a2.30,2.30 0 1,0 4.60,0 a2.30,2.30 0 1,0 -4.60,0 M436.46,130.88 a2.30,2.30 0 1,0 4.60,0 a2.30,2.30 0 1,0 -4.60,0 M438.81,116.06 a2.30,2.30 0 1,0 4.60,0 a2.30,2.30 0 1,0 -4.60,0 M441.17,100.57 a2.30,2.30 0 1,0 4.60,0 a2.30,2.30 0 1,0 -4.60,0 M443.52,84.50 a2.30,2.30 0 1,0 4.60,0 a2.30,2.30 0 1,0 -4.60,0 M445.88,69.62 a2.30,2.30 0 1,0 4.60,0 a2.30,2.30 0 1,0 -4.60,0 M448.23,55.51 a2.30,2.30 0 1,0 4.60,0 a2.30,2.30 0 1,0 -4.60,0 M450.59,46.16 a2.30,2.30 0 1,0 4.60,0 a2.30,2.30 0 1,0 -4.60,0 M452.94,38.86 a2.30,2.30 0 1,0 4.60,0 a2.30,2.30 0 1,0 -4.60,0 M455.30,35.72 a2.30,2.30 0 1,0 4.60,0 a2.30,2.30 0 1,0 -4.60,0 M457.65,38.81 a2.30,2.30 0 1,0 4.60,0 a2.30,2.30 0 1,0 -4.60,0 M460.01,46.76 a2.30,2.30 0 1,0 4.60,0 a2.30,2.30 0 1,0 -4.60,0 M462.36,58.06 a2.30,2.30 0 1,0 4.60,0 a2.30,2.30 0 1,0 -4.60,0 M464.72,70.91 a2.30,2.30 0 1,0 4.60,0 a2.30,2.30 0 1,0 -4.60,0 M467.07,85.96 a2.30,2.30 0 1,0 4.60,0 a2.30,2.30 0 1,0 -4.60,0 M469.43,99.71 a2.30,2.30 0 1,0 4.60,0 a2.30,2.30 0 1,0 -4.60,0 M471.78,111.37 a2.30,2.30 0 1,0 4.60,0 a2.30,2.30 0 1,0 -4.60,0 M474.14,122.50 a2.30,2.30 0 1,0 4.60,0 a2.30,2.30 0 1,0 -4.60,0 M476.49,131.45 a2.30,2.30 0 1,0 4.60,0 a2.30,2.30 0 1,0 -4.60,0 M478.85,139.65 a2.30,2.30 0 1,0 4.60,0 a2.30,2.30 0 1,0 -4.60,0 M481.20,146.95 a2.30,2.30 0 1,0 4.60,0 a2.30,2.30 0 1,0 -4.60,0 M483.56,152.69 a2.30,2.30 0 1,0 4.60,0 a2.30,2.30 0 1,0 -4.60,0 M485.91,158.61 a2.30,2.30 0 1,0 4.60,0 a2.30,2.30 0 1,0 -4.60,0 M488.27,161.85 a2.30,2.30 0 1,0 4.60,0 a2.30,2.30 0 1,0 -4.60,0 M490.62,165.36 a2.30,2.30 0 1,0 4.60,0 a2.30,2.30 0 1,0 -4.60,0 M492.98,170.09 a2.30,2.30 0 1,0 4.60,0 a2.30,2.30 0 1,0 -4.60,0 M495.33,172.26 a2.30,2.30 0 1,0 4.60,0 a2.30,2.30 0 1,0 -4.60,0 M497.69,174.14 a2.30,2.30 0 1,0 4.60,0 a2.30,2.30 0 1,0 -4.60,0 M500.04,177.04 a2.30,2.30 0 1,0 4.60,0 a2.30,2.30 0 1,0 -4.60,0 M502.40,177.09 a2.30,2.30 0 1,0 4.60,0 a2.30,2.30 0 1,0 -4.60,0 M504.75,180.55 a2.30,2.30 0 1,0 4.60,0 a2.30,2.30 0 1,0 -4.60,0 M507.11,183.61 a2.30,2.30 0 1,0 4.60,0 a2.30,2.30 0 1,0 -4.60,0 M509.46,184.42 a2.30,2.30 0 1,0 4.60,0 a2.30,2.30 0 1,0 -4.60,0 M511.82,184.87 a2.30,2.30 0 1,0 4.60,0 a2.30,2.30 0 1,0 -4.60,0 M514.17,184.19 a2.30,2.30 0 1,0 4.60,0 a2.30,2.30 0 1,0 -4.60,0 M516.53,185.32 a2.30,2.30 0 1,0 4.60,0 a2.30,2.30 0 1,0 -4.60,0 M518.88,185.23 a2.30,2.30 0 1,0 4.60,0 a2.30,2.30 0 1,0 -4.60,0 M521.24,187.93 a2.30,2.30 0 1,0 4.60,0 a2.30,2.30 0 1,0 -4.60,0 M523.59,187.51 a2.30,2.30 0 1,0 4.60,0 a2.30,2.30 0 1,0 -4.60,0 M525.95,188.77 a2.30,2.30 0 1,0 4.60,0 a2.30,2.30 0 1,0 -4.60,0 M528.30,187.47 a2.30,2.30 0 1,0 4.60,0 a2.30,2.30 0 1,0 -4.60,0 M530.66,187.36 a2.30,2.30 0 1,0 4.60,0 a2.30,2.30 0 1,0 -4.60,0 M533.01,189.72 a2.30,2.30 0 1,0 4.60,0 a2.30,2.30 0 1,0 -4.60,0 M535.37,190.55 a2.30,2.30 0 1,0 4.60,0 a2.30,2.30 0 1,0 -4.60,0 M537.72,190.26 a2.30,2.30 0 1,0 4.60,0 a2.30,2.30 0 1,0 -4.60,0 M540.08,190.26 a2.30,2.30 0 1,0 4.60,0 a2.30,2.30 0 1,0 -4.60,0 M542.43,190.45 a2.30,2.30 0 1,0 4.60,0 a2.30,2.30 0 1,0 -4.60,0 M544.79,190.31 a2.30,2.30 0 1,0 4.60,0 a2.30,2.30 0 1,0 -4.60,0 M547.14,188.58 a2.30,2.30 0 1,0 4.60,0 a2.30,2.30 0 1,0 -4.60,0 M549.50,189.74 a2.30,2.30 0 1,0 4.60,0 a2.30,2.30 0 1,0 -4.60,0 M551.85,189.26 a2.30,2.30 0 1,0 4.60,0 a2.30,2.30 0 1,0 -4.60,0 M554.21,188.18 a2.30,2.30 0 1,0 4.60,0 a2.30,2.30 0 1,0 -4.60,0 M556.56,188.27 a2.30,2.30 0 1,0 4.60,0 a2.30,2.30 0 1,0 -4.60,0 M558.92,189.25 a2.30,2.30 0 1,0 4.60,0 a2.30,2.30 0 1,0 -4.60,0 M561.27,189.26 a2.30,2.30 0 1,0 4.60,0 a2.30,2.30 0 1,0 -4.60,0 M563.63,190.89 a2.30,2.30 0 1,0 4.60,0 a2.30,2.30 0 1,0 -4.60,0 M565.98,191.90 a2.30,2.30 0 1,0 4.60,0 a2.30,2.30 0 1,0 -4.60,0 M568.34,190.13 a2.30,2.30 0 1,0 4.60,0 a2.30,2.30 0 1,0 -4.60,0 M570.69,191.95 a2.30,2.30 0 1,0 4.60,0 a2.30,2.30 0 1,0 -4.60,0 M573.05,192.19 a2.30,2.30 0 1,0 4.60,0 a2.30,2.30 0 1,0 -4.60,0 M575.40,192.12 a2.30,2.30 0 1,0 4.60,0 a2.30,2.30 0 1,0 -4.60,0 M577.76,190.04 a2.30,2.30 0 1,0 4.60,0 a2.30,2.30 0 1,0 -4.60,0 M580.11,189.57 a2.30,2.30 0 1,0 4.60,0 a2.30,2.30 0 1,0 -4.60,0 M582.47,189.63 a2.30,2.30 0 1,0 4.60,0 a2.30,2.30 0 1,0 -4.60,0 M584.82,189.57 a2.30,2.30 0 1,0 4.60,0 a2.30,2.30 0 1,0 -4.60,0 M587.18,189.62 a2.30,2.30 0 1,0 4.60,0 a2.30,2.30 0 1,0 -4.60,0" fill="none" stroke="#ee3535" stroke-width="1.05"/>
<path d="M410.50,194.59 L411.00,194.49 L411.50,194.37 L412.00,194.25 L412.50,194.13 L413.00,193.99 L413.50,193.84 L414.00,193.68 L414.50,193.50 L415.00,193.32 L415.50,193.11 L416.00,192.89 L416.50,192.66 L417.00,192.40 L417.50,192.13 L418.00,191.83 L418.50,191.51 L419.00,191.16 L419.50,190.78 L420.00,190.38 L420.50,189.95 L421.00,189.48 L421.50,188.98 L422.00,188.43 L422.50,187.85 L423.00,187.23 L423.50,186.57 L424.00,185.85 L424.50,185.09 L425.00,184.27 L425.50,183.40 L426.00,182.48 L426.50,181.49 L427.00,180.44 L427.50,179.33 L428.00,178.15 L428.50,176.90 L429.00,175.58 L429.50,174.18 L430.00,172.71 L430.50,171.16 L431.00,169.53 L431.50,167.82 L432.00,166.03 L432.50,164.15 L433.00,162.19 L433.50,160.14 L434.00,158.01 L434.50,155.79 L435.00,153.49 L435.50,151.10 L436.00,148.63 L436.50,146.08 L437.00,143.45 L437.50,140.73 L438.00,137.95 L438.50,135.09 L439.00,132.16 L439.50,129.17 L440.00,126.12 L440.50,123.01 L441.00,119.85 L441.50,116.65 L442.00,113.41 L442.50,110.14 L443.00,106.85 L443.50,103.54 L444.00,100.22 L444.50,96.91 L445.00,93.60 L445.50,90.31 L446.00,87.05 L446.50,83.83 L447.00,80.66 L447.50,77.55 L448.00,74.50 L448.50,71.54 L449.00,68.66 L449.50,65.89 L450.00,63.23 L450.50,60.69 L451.00,58.29 L451.50,56.03 L452.00,53.93 L452.50,51.99 L453.00,50.22 L453.50,48.64 L454.00,47.24 L454.50,46.04 L455.00,45.05 L455.50,44.26 L456.00,43.68 L456.50,43.32 L457.00,43.18 L457.50,43.28 L458.00,43.64 L458.50,44.27 L459.00,45.15 L459.50,46.28 L460.00,47.64 L460.50,49.24 L461.00,51.04 L461.50,53.05 L462.00,55.24 L462.50,57.61 L463.00,60.14 L463.50,62.81 L464.00,65.60 L464.50,68.51 L465.00,71.51 L465.50,74.60 L466.00,77.76 L466.50,80.97 L467.00,84.22 L467.50,87.51 L468.00,90.81 L468.50,94.13 L469.00,97.44 L469.50,100.74 L470.00,104.02 L470.50,107.27 L471.00,110.48 L471.50,113.65 L472.00,116.77 L472.50,119.83 L473.00,122.84 L473.50,125.78 L474.00,128.64 L474.50,131.44 L475.00,134.16 L475.50,136.80 L476.00,139.35 L476.50,141.83 L477.00,144.22 L477.50,146.52 L478.00,148.74 L478.50,150.87 L479.00,152.91 L479.50,154.87 L480.00,156.75 L480.50,158.54 L481.00,160.25 L481.50,161.88 L482.00,163.42 L482.50,164.89 L483.00,166.29 L483.50,167.61 L484.00,168.86 L484.50,170.05 L485.00,171.16 L485.50,172.22 L486.00,173.21 L486.50,174.15 L487.00,175.03 L487.50,175.85 L488.00,176.63 L488.50,177.36 L489.00,178.04 L489.50,178.68 L490.00,179.28 L490.50,179.84 L491.00,180.37 L491.50,180.86 L492.00,181.32 L492.50,181.75 L493.00,182.15 L493.50,182.53 L494.00,182.88 L494.50,183.21 L495.00,183.52 L495.50,183.81 L496.00,184.08 L496.50,184.33 L497.00,184.57 L497.50,184.80 L498.00,185.01 L498.50,185.21 L499.00,185.39 L499.50,185.57 L500.00,185.74 L500.50,185.89 L501.00,186.04 L501.50,186.19 L502.00,186.32 L502.50,186.45 L503.00,186.57 L503.50,186.69 L504.00,186.80 L504.50,186.90 L505.00,187.01 L505.50,187.10 L506.00,187.20 L506.50,187.29 L507.00,187.38 L507.50,187.46 L508.00,187.54 L508.50,187.62 L509.00,187.69 L509.50,187.77 L510.00,187.84 L510.50,187.91 L511.00,187.97 L511.50,188.04 L512.00,188.10 L512.50,188.16 L513.00,188.22 L513.50,188.28 L514.00,188.34 L514.50,188.39 L515.00,188.45 L515.50,188.50 L516.00,188.55 L516.50,188.60 L517.00,188.65 L517.50,188.69 L518.00,188.74 L518.50,188.79 L519.00,188.83 L519.50,188.87 L520.00,188.91 L520.50,188.96 L521.00,189.00 L521.50,189.04 L522.00,189.07 L522.50,189.11 L523.00,189.15 L523.50,189.19 L524.00,189.22 L524.50,189.26 L525.00,189.29 L525.50,189.32 L526.00,189.36 L526.50,189.39 L527.00,189.42 L527.50,189.45 L528.00,189.48 L528.50,189.51 L529.00,189.54 L529.50,189.57 L530.00,189.59 L530.50,189.62 L531.00,189.65 L531.50,189.67 L532.00,189.70 L532.50,189.73 L533.00,189.75 L533.50,189.77 L534.00,189.80 L534.50,189.82 L535.00,189.85 L535.50,189.87 L536.00,189.89 L536.50,189.91 L537.00,189.93 L537.50,189.95 L538.00,189.97 L538.50,189.99 L539.00,190.01 L539.50,190.03 L540.00,190.05 L540.50,190.07 L541.00,190.09 L541.50,190.11 L542.00,190.13 L542.50,190.14 L543.00,190.16 L543.50,190.18 L544.00,190.20 L544.50,190.21 L545.00,190.23 L545.50,190.24 L546.00,190.26 L546.50,190.27 L547.00,190.29 L547.50,190.30 L548.00,190.32 L548.50,190.33 L549.00,190.35 L549.50,190.36 L550.00,190.38 L550.50,190.39 L551.00,190.40 L551.50,190.42 L552.00,190.43 L552.50,190.44 L553.00,190.45 L553.50,190.47 L554.00,190.48" fill="none" stroke="#2f9f9f" stroke-width="1.15" stroke-linejoin="round"/>
<path d="M365.50,197.29 L366.00,197.29 L366.50,197.29 L367.00,197.29 L367.50,197.28 L368.00,197.28 L368.50,197.28 L369.00,197.27 L369.50,197.27 L370.00,197.27 L370.50,197.26 L371.00,197.26 L371.50,197.26 L372.00,197.25 L372.50,197.25 L373.00,197.25 L373.50,197.24 L374.00,197.24 L374.50,197.24 L375.00,197.23 L375.50,197.23 L376.00,197.23 L376.50,197.22 L377.00,197.22 L377.50,197.22 L378.00,197.21 L378.50,197.21 L379.00,197.20 L379.50,197.20 L380.00,197.20 L380.50,197.19 L381.00,197.19 L381.50,197.18 L382.00,197.18 L382.50,197.18 L383.00,197.17 L383.50,197.17 L384.00,197.16 L384.50,197.16 L385.00,197.15 L385.50,197.15 L386.00,197.14 L386.50,197.14 L387.00,197.14 L387.50,197.13 L388.00,197.13 L388.50,197.12 L389.00,197.12 L389.50,197.11 L390.00,197.10 L390.50,197.10 L391.00,197.09 L391.50,197.09 L392.00,197.08 L392.50,197.08 L393.00,197.07 L393.50,197.07 L394.00,197.06 L394.50,197.05 L395.00,197.05 L395.50,197.04 L396.00,197.03 L396.50,197.03 L397.00,197.02 L397.50,197.01 L398.00,197.01 L398.50,197.00 L399.00,196.99 L399.50,196.99 L400.00,196.98 L400.50,196.97 L401.00,196.96 L401.50,196.96 L402.00,196.95 L402.50,196.94 L403.00,196.93 L403.50,196.92 L404.00,196.92 L404.50,196.91 L405.00,196.90 L405.50,196.89 L406.00,196.88 L406.50,196.87 L407.00,196.86 L407.50,196.85 L408.00,196.84 L408.50,196.83 L409.00,196.82 L409.50,196.81 L410.00,196.80 L410.50,196.79 L411.00,196.78 L411.50,196.77 L412.00,196.76 L412.50,196.75 L413.00,196.73 L413.50,196.72 L414.00,196.71 L414.50,196.70 L415.00,196.68 L415.50,196.67 L416.00,196.66 L416.50,196.64 L417.00,196.63 L417.50,196.61 L418.00,196.60 L418.50,196.58 L419.00,196.56 L419.50,196.55 L420.00,196.53 L420.50,196.51 L421.00,196.49 L421.50,196.47 L422.00,196.45 L422.50,196.43 L423.00,196.41 L423.50,196.39 L424.00,196.37 L424.50,196.34 L425.00,196.32 L425.50,196.29 L426.00,196.26 L426.50,196.24 L427.00,196.21 L427.50,196.18 L428.00,196.15 L428.50,196.11 L429.00,196.08 L429.50,196.04 L430.00,196.01 L430.50,195.97 L431.00,195.93 L431.50,195.88 L432.00,195.84 L432.50,195.79 L433.00,195.74 L433.50,195.69 L434.00,195.64 L434.50,195.58 L435.00,195.52 L435.50,195.46 L436.00,195.40 L436.50,195.33 L437.00,195.26 L437.50,195.19 L438.00,195.11 L438.50,195.03 L439.00,194.94 L439.50,194.85 L440.00,194.76 L440.50,194.67 L441.00,194.56 L441.50,194.46 L442.00,194.35 L442.50,194.23 L443.00,194.11 L443.50,193.99 L444.00,193.86 L444.50,193.72 L445.00,193.58 L445.50,193.43 L446.00,193.28 L446.50,193.12 L447.00,192.96 L447.50,192.79 L448.00,192.61 L448.50,192.42 L449.00,192.23 L449.50,192.03 L450.00,191.83 L450.50,191.62 L451.00,191.40 L451.50,191.17 L452.00,190.94 L452.50,190.70 L453.00,190.45 L453.50,190.20 L454.00,189.93 L454.50,189.66 L455.00,189.39 L455.50,189.10 L456.00,188.81 L456.50,188.51 L457.00,188.20 L457.50,187.89 L458.00,187.57 L458.50,187.24 L459.00,186.91 L459.50,186.57 L460.00,186.22 L460.50,185.87 L461.00,185.51 L461.50,185.15 L462.00,184.78 L462.50,184.40 L463.00,184.02 L463.50,183.64 L464.00,183.25 L464.50,182.85 L465.00,182.46 L465.50,182.06 L466.00,181.66 L466.50,181.25 L467.00,180.85 L467.50,180.44 L468.00,180.03 L468.50,179.62 L469.00,179.22 L469.50,178.81 L470.00,178.41 L470.50,178.01 L471.00,177.62 L471.50,177.23 L472.00,176.84 L472.50,176.46 L473.00,176.09 L473.50,175.73 L474.00,175.38 L474.50,175.04 L475.00,174.71 L475.50,174.40 L476.00,174.10 L476.50,173.82 L477.00,173.55 L477.50,173.31 L478.00,173.08 L478.50,172.87 L479.00,172.68 L479.50,172.52 L480.00,172.38 L480.50,172.26 L481.00,172.17 L481.50,172.10 L482.00,172.05 L482.50,172.03 L483.00,172.04 L483.50,172.07 L484.00,172.12 L484.50,172.20 L485.00,172.31 L485.50,172.43 L486.00,172.58 L486.50,172.74 L487.00,172.93 L487.50,173.13 L488.00,173.36 L488.50,173.60 L489.00,173.85 L489.50,174.12 L490.00,174.40 L490.50,174.69 L491.00,174.99 L491.50,175.30 L492.00,175.62 L492.50,175.95 L493.00,176.28 L493.50,176.61 L494.00,176.95 L494.50,177.30 L495.00,177.64 L495.50,177.99 L496.00,178.33 L496.50,178.68 L497.00,179.02 L497.50,179.36 L498.00,179.70 L498.50,180.04 L499.00,180.38 L499.50,180.71 L500.00,181.03 L500.50,181.35 L501.00,181.67 L501.50,181.98 L502.00,182.29 L502.50,182.59 L503.00,182.88 L503.50,183.17 L504.00,183.45 L504.50,183.73 L505.00,184.00 L505.50,184.26 L506.00,184.51 L506.50,184.76 L507.00,185.00 L507.50,185.24 L508.00,185.47 L508.50,185.69 L509.00,185.90 L509.50,186.11 L510.00,186.31 L510.50,186.50 L511.00,186.69 L511.50,186.87 L512.00,187.05 L512.50,187.21 L513.00,187.38 L513.50,187.53 L514.00,187.68 L514.50,187.83 L515.00,187.97 L515.50,188.10 L516.00,188.23 L516.50,188.35 L517.00,188.47 L517.50,188.58 L518.00,188.69 L518.50,188.79 L519.00,188.89 L519.50,188.99 L520.00,189.08 L520.50,189.16 L521.00,189.25 L521.50,189.32 L522.00,189.40 L522.50,189.47 L523.00,189.54 L523.50,189.61 L524.00,189.67 L524.50,189.73 L525.00,189.79 L525.50,189.84 L526.00,189.90 L526.50,189.95 L527.00,189.99 L527.50,190.04 L528.00,190.08 L528.50,190.12 L529.00,190.16 L529.50,190.20 L530.00,190.24 L530.50,190.27 L531.00,190.31 L531.50,190.34 L532.00,190.37 L532.50,190.40 L533.00,190.43 L533.50,190.46 L534.00,190.48 L534.50,190.51 L535.00,190.53 L535.50,190.56 L536.00,190.58 L536.50,190.60 L537.00,190.62 L537.50,190.64 L538.00,190.66 L538.50,190.68 L539.00,190.70 L539.50,190.72 L540.00,190.73 L540.50,190.75 L541.00,190.76 L541.50,190.78 L542.00,190.80 L542.50,190.81 L543.00,190.82 L543.50,190.84 L544.00,190.85 L544.50,190.87 L545.00,190.88 L545.50,190.89 L546.00,190.90 L546.50,190.91 L547.00,190.93 L547.50,190.94 L548.00,190.95 L548.50,190.96 L549.00,190.97 L549.50,190.98 L550.00,190.99 L550.50,191.00 L551.00,191.01 L551.50,191.02 L552.00,191.03 L552.50,191.04 L553.00,191.05 L553.50,191.05 L554.00,191.06 L554.50,191.07 L555.00,191.08 L555.50,191.09 L556.00,191.09 L556.50,191.10 L557.00,191.11 L557.50,191.12 L558.00,191.12 L558.50,191.13 L559.00,191.14 L559.50,191.14 L560.00,191.15 L560.50,191.16 L561.00,191.16 L561.50,191.17 L562.00,191.18 L562.50,191.18 L563.00,191.19 L563.50,191.19 L564.00,191.20 L564.50,191.20 L565.00,191.21 L565.50,191.22 L566.00,191.22 L566.50,191.23 L567.00,191.23 L567.50,191.24 L568.00,191.24 L568.50,191.25 L569.00,191.25 L569.50,191.26 L570.00,191.26 L570.50,191.26 L571.00,191.27 L571.50,191.27 L572.00,191.28 L572.50,191.28 L573.00,191.29 L573.50,191.29 L574.00,191.29 L574.50,191.30 L575.00,191.30 L575.50,191.31 L576.00,191.31 L576.50,191.31 L577.00,191.32 L577.50,191.32 L578.00,191.32 L578.50,191.33 L579.00,191.33 L579.50,191.33 L580.00,191.34 L580.50,191.34 L581.00,191.34 L581.50,191.35 L582.00,191.35 L582.50,191.35 L583.00,191.36 L583.50,191.36 L584.00,191.36 L584.50,191.37 L585.00,191.37 L585.50,191.37 L586.00,191.37 L586.50,191.38 L587.00,191.38 L587.50,191.38 L588.00,191.39 L588.50,191.39" fill="none" stroke="#2a2ae8" stroke-width="1.15" stroke-linejoin="round"/>
<path d="M354.00,196.79 L354.50,196.78 L355.00,196.78 L355.50,196.77 L356.00,196.76 L356.50,196.75 L357.00,196.75 L357.50,196.74 L358.00,196.73 L358.50,196.72 L359.00,196.71 L359.50,196.70 L360.00,196.69 L360.50,196.69 L361.00,196.68 L361.50,196.67 L362.00,196.66 L362.50,196.65 L363.00,196.64 L363.50,196.63 L364.00,196.62 L364.50,196.61 L365.00,196.60 L365.50,196.59 L366.00,196.58 L366.50,196.57 L367.00,196.56 L367.50,196.55 L368.00,196.54 L368.50,196.53 L369.00,196.52 L369.50,196.50 L370.00,196.49 L370.50,196.48 L371.00,196.47 L371.50,196.46 L372.00,196.44 L372.50,196.43 L373.00,196.42 L373.50,196.41 L374.00,196.39 L374.50,196.38 L375.00,196.37 L375.50,196.35 L376.00,196.34 L376.50,196.32 L377.00,196.31 L377.50,196.29 L378.00,196.28 L378.50,196.26 L379.00,196.25 L379.50,196.23 L380.00,196.22 L380.50,196.20 L381.00,196.18 L381.50,196.17 L382.00,196.15 L382.50,196.13 L383.00,196.11 L383.50,196.10 L384.00,196.08 L384.50,196.06 L385.00,196.04 L385.50,196.02 L386.00,196.00 L386.50,195.98 L387.00,195.96 L387.50,195.94 L388.00,195.92 L388.50,195.89 L389.00,195.87 L389.50,195.85 L390.00,195.83 L390.50,195.80 L391.00,195.78 L391.50,195.75 L392.00,195.73 L392.50,195.70 L393.00,195.68 L393.50,195.65 L394.00,195.62 L394.50,195.59 L395.00,195.56 L395.50,195.53 L396.00,195.50 L396.50,195.47 L397.00,195.44 L397.50,195.41 L398.00,195.37 L398.50,195.34 L399.00,195.30 L399.50,195.27 L400.00,195.23 L400.50,195.19 L401.00,195.15 L401.50,195.11 L402.00,195.06 L402.50,195.02 L403.00,194.97 L403.50,194.92 L404.00,194.87 L404.50,194.81 L405.00,194.76 L405.50,194.70 L406.00,194.64 L406.50,194.57 L407.00,194.50 L407.50,194.43 L408.00,194.35 L408.50,194.27 L409.00,194.18 L409.50,194.09 L410.00,193.99 L410.50,193.88 L411.00,193.77 L411.50,193.65 L412.00,193.52 L412.50,193.38 L413.00,193.23 L413.50,193.07 L414.00,192.90 L414.50,192.72 L415.00,192.52 L415.50,192.30 L416.00,192.07 L416.50,191.83 L417.00,191.56 L417.50,191.27 L418.00,190.96 L418.50,190.62 L419.00,190.26 L419.50,189.88 L420.00,189.46 L420.50,189.01 L421.00,188.53 L421.50,188.01 L422.00,187.45 L422.50,186.86 L423.00,186.22 L423.50,185.53 L424.00,184.80 L424.50,184.02 L425.00,183.19 L425.50,182.30 L426.00,181.35 L426.50,180.35 L427.00,179.28 L427.50,178.14 L428.00,176.94 L428.50,175.66 L429.00,174.32 L429.50,172.90 L430.00,171.40 L430.50,169.83 L431.00,168.17 L431.50,166.43 L432.00,164.61 L432.50,162.70 L433.00,160.70 L433.50,158.62 L434.00,156.45 L434.50,154.20 L435.00,151.86 L435.50,149.43 L436.00,146.92 L436.50,144.32 L437.00,141.64 L437.50,138.88 L438.00,136.04 L438.50,133.13 L439.00,130.15 L439.50,127.10 L440.00,123.99 L440.50,120.82 L441.00,117.59 L441.50,114.32 L442.00,111.01 L442.50,107.67 L443.00,104.30 L443.50,100.90 L444.00,97.50 L444.50,94.10 L445.00,90.69 L445.50,87.31 L446.00,83.95 L446.50,80.62 L447.00,77.33 L447.50,74.10 L448.00,70.94 L448.50,67.84 L449.00,64.84 L449.50,61.93 L450.00,59.12 L450.50,56.44 L451.00,53.88 L451.50,51.46 L452.00,49.19 L452.50,47.07 L453.00,45.13 L453.50,43.36 L454.00,41.77 L454.50,40.37 L455.00,39.17 L455.50,38.16 L456.00,37.37 L456.50,36.78 L457.00,36.40 L457.50,36.26 L458.00,36.38 L458.50,36.75 L459.00,37.37 L459.50,38.22 L460.00,39.31 L460.50,40.62 L461.00,42.14 L461.50,43.85 L462.00,45.74 L462.50,47.80 L463.00,50.01 L463.50,52.36 L464.00,54.83 L464.50,57.41 L465.00,60.08 L465.50,62.82 L466.00,65.64 L466.50,68.50 L467.00,71.41 L467.50,74.34 L468.00,77.29 L468.50,80.25 L469.00,83.20 L469.50,86.15 L470.00,89.07 L470.50,91.97 L471.00,94.83 L471.50,97.66 L472.00,100.44 L472.50,103.16 L473.00,105.84 L473.50,108.45 L474.00,111.01 L474.50,113.50 L475.00,115.93 L475.50,118.29 L476.00,120.58 L476.50,122.80 L477.00,124.95 L477.50,127.04 L478.00,129.06 L478.50,131.01 L479.00,132.90 L479.50,134.72 L480.00,136.48 L480.50,138.18 L481.00,139.82 L481.50,141.40 L482.00,142.93 L482.50,144.40 L483.00,145.82 L483.50,147.20 L484.00,148.52 L484.50,149.80 L485.00,151.04 L485.50,152.24 L486.00,153.40 L486.50,154.52 L487.00,155.60 L487.50,156.65 L488.00,157.66 L488.50,158.64 L489.00,159.60 L489.50,160.52 L490.00,161.41 L490.50,162.28 L491.00,163.12 L491.50,163.94 L492.00,164.73 L492.50,165.50 L493.00,166.24 L493.50,166.97 L494.00,167.67 L494.50,168.35 L495.00,169.01 L495.50,169.66 L496.00,170.29 L496.50,170.90 L497.00,171.49 L497.50,172.06 L498.00,172.62 L498.50,173.17 L499.00,173.70 L499.50,174.21 L500.00,174.71 L500.50,175.20 L501.00,175.67 L501.50,176.14 L502.00,176.58 L502.50,177.02 L503.00,177.44 L503.50,177.85 L504.00,178.25 L504.50,178.64 L505.00,179.02 L505.50,179.38 L506.00,179.74 L506.50,180.08 L507.00,180.42 L507.50,180.74 L508.00,181.05 L508.50,181.36 L509.00,181.65 L509.50,181.94 L510.00,182.21 L510.50,182.48 L511.00,182.74 L511.50,182.99 L512.00,183.23 L512.50,183.46 L513.00,183.69 L513.50,183.91 L514.00,184.12 L514.50,184.32 L515.00,184.51 L515.50,184.70 L516.00,184.89 L516.50,185.06 L517.00,185.23 L517.50,185.39 L518.00,185.55 L518.50,185.70 L519.00,185.85 L519.50,185.99 L520.00,186.12 L520.50,186.25 L521.00,186.38 L521.50,186.50 L522.00,186.62 L522.50,186.73 L523.00,186.84 L523.50,186.94 L524.00,187.04 L524.50,187.14 L525.00,187.23 L525.50,187.32 L526.00,187.41 L526.50,187.50 L527.00,187.58 L527.50,187.66 L528.00,187.73 L528.50,187.80 L529.00,187.87 L529.50,187.94 L530.00,188.01 L530.50,188.07 L531.00,188.14 L531.50,188.20 L532.00,188.25 L532.50,188.31 L533.00,188.36 L533.50,188.42 L534.00,188.47 L534.50,188.52 L535.00,188.57 L535.50,188.62 L536.00,188.66 L536.50,188.71 L537.00,188.75 L537.50,188.79 L538.00,188.83 L538.50,188.88 L539.00,188.91 L539.50,188.95 L540.00,188.99 L540.50,189.03 L541.00,189.06 L541.50,189.10 L542.00,189.13 L542.50,189.17 L543.00,189.20 L543.50,189.23 L544.00,189.26 L544.50,189.29 L545.00,189.32 L545.50,189.35 L546.00,189.38 L546.50,189.41 L547.00,189.44 L547.50,189.46 L548.00,189.49 L548.50,189.52 L549.00,189.54 L549.50,189.57 L550.00,189.59 L550.50,189.62 L551.00,189.64 L551.50,189.66 L552.00,189.69 L552.50,189.71 L553.00,189.73 L553.50,189.75 L554.00,189.78 L554.50,189.80 L555.00,189.82 L555.50,189.84 L556.00,189.86 L556.50,189.88 L557.00,189.90 L557.50,189.92 L558.00,189.93 L558.50,189.95 L559.00,189.97 L559.50,189.99 L560.00,190.01 L560.50,190.02 L561.00,190.04 L561.50,190.06 L562.00,190.07 L562.50,190.09 L563.00,190.11 L563.50,190.12 L564.00,190.14 L564.50,190.15 L565.00,190.17 L565.50,190.18 L566.00,190.20 L566.50,190.21 L567.00,190.23 L567.50,190.24 L568.00,190.25 L568.50,190.27 L569.00,190.28 L569.50,190.29 L570.00,190.31 L570.50,190.32 L571.00,190.33 L571.50,190.34 L572.00,190.36 L572.50,190.37 L573.00,190.38 L573.50,190.39 L574.00,190.40 L574.50,190.41 L575.00,190.43 L575.50,190.44 L576.00,190.45 L576.50,190.46 L577.00,190.47 L577.50,190.48 L578.00,190.49 L578.50,190.50 L579.00,190.51 L579.50,190.52 L580.00,190.53 L580.50,190.54 L581.00,190.55 L581.50,190.56 L582.00,190.57 L582.50,190.58 L583.00,190.59 L583.50,190.60 L584.00,190.60 L584.50,190.61 L585.00,190.62 L585.50,190.63 L586.00,190.64 L586.50,190.65 L587.00,190.66 L587.50,190.66 L588.00,190.67 L588.50,190.68" fill="none" stroke="#1c1c1c" stroke-width="1.05" stroke-linejoin="round"/>
<rect x="25.40" y="253.60" width="260.30" height="193.60" fill="none" stroke="#4a4a4a" stroke-width="1.1"/>
<path d="M35.35,447.20 V443.60 M55.83,447.20 V443.60 M76.31,447.20 V443.60 M96.79,447.20 V443.60 M117.27,447.20 V443.60 M137.75,447.20 V443.60 M158.23,447.20 V443.60 M178.71,447.20 V443.60 M199.19,447.20 V443.60 M219.67,447.20 V443.60 M240.15,447.20 V443.60 M260.63,447.20 V443.60 M281.11,447.20 V443.60 M45.59,447.20 V445.00 M66.07,447.20 V445.00 M86.55,447.20 V445.00 M107.03,447.20 V445.00 M127.51,447.20 V445.00 M147.99,447.20 V445.00 M168.47,447.20 V445.00 M188.95,447.20 V445.00 M209.43,447.20 V445.00 M229.91,447.20 V445.00 M250.39,447.20 V445.00 M270.87,447.20 V445.00 M25.40,287.20 H29.00 M25.40,320.40 H29.00 M25.40,353.90 H29.00 M25.40,387.30 H29.00 M25.40,420.80 H29.00 M25.40,270.40 H27.60 M25.40,304.20 H27.60 M25.40,337.20 H27.60 M25.40,370.50 H27.60 M25.40,404.20 H27.60 M25.40,437.50 H27.60" stroke="#4a4a4a" stroke-width="1" fill="none"/>
<text x="1.40" y="251.10" font-size="21.30" text-anchor="start" >c</text>
<text x="35.35" y="458.10" font-size="9.00" text-anchor="middle" >228</text>
<text x="55.83" y="458.10" font-size="9.00" text-anchor="middle" >229</text>
<text x="76.31" y="458.10" font-size="9.00" text-anchor="middle" >230</text>
<text x="96.79" y="458.10" font-size="9.00" text-anchor="middle" >231</text>
<text x="117.27" y="458.10" font-size="9.00" text-anchor="middle" >232</text>
<text x="137.75" y="458.10" font-size="9.00" text-anchor="middle" >233</text>
<text x="158.23" y="458.10" font-size="9.00" text-anchor="middle" >234</text>
<text x="178.71" y="458.10" font-size="9.00" text-anchor="middle" >235</text>
<text x="199.19" y="458.10" font-size="9.00" text-anchor="middle" >236</text>
<text x="219.67" y="458.10" font-size="9.00" text-anchor="middle" >237</text>
<text x="240.15" y="458.10" font-size="9.00" text-anchor="middle" >238</text>
<text x="260.63" y="458.10" font-size="9.00" text-anchor="middle" >239</text>
<text x="281.11" y="458.10" font-size="9.00" text-anchor="middle" >240</text>
<text x="159.50" y="471.90" font-size="10.50" text-anchor="middle" >Binding Energy/eV</text>
<text x="0" y="0" font-size="10.90" text-anchor="middle" transform="translate(19.80,354.10) rotate(-90)">Intensity/a.u.</text>
<text x="32.40" y="265.60" font-size="9.70" text-anchor="start" >Mo 3d</text>
<text x="105.80" y="278.30" font-size="9.70" text-anchor="start" >Mo<tspan font-size="5.6" stroke-width="0" dy="-5.5">6+</tspan></text>
<text x="198.70" y="323.90" font-size="9.70" text-anchor="start" >Mo<tspan font-size="5.6" stroke-width="0" dy="-5.5">6+</tspan></text>
<text x="71.50" y="384.10" font-size="9.70" text-anchor="start" >Mo<tspan font-size="5.6" stroke-width="0" dy="-5.5">5+</tspan></text>
<text x="150.80" y="384.10" font-size="9.70" text-anchor="start" >Mo<tspan font-size="5.6" stroke-width="0" dy="-6.6">5+</tspan></text>
<path d="M34.07,430.82 a2.30,2.30 0 1,0 4.60,0 a2.30,2.30 0 1,0 -4.60,0 M36.12,431.80 a2.30,2.30 0 1,0 4.60,0 a2.30,2.30 0 1,0 -4.60,0 M38.17,431.56 a2.30,2.30 0 1,0 4.60,0 a2.30,2.30 0 1,0 -4.60,0 M40.22,430.23 a2.30,2.30 0 1,0 4.60,0 a2.30,2.30 0 1,0 -4.60,0 M42.27,430.83 a2.30,2.30 0 1,0 4.60,0 a2.30,2.30 0 1,0 -4.60,0 M44.31,431.34 a2.30,2.30 0 1,0 4.60,0 a2.30,2.30 0 1,0 -4.60,0 M46.36,428.74 a2.30,2.30 0 1,0 4.60,0 a2.30,2.30 0 1,0 -4.60,0 M48.41,430.78 a2.30,2.30 0 1,0 4.60,0 a2.30,2.30 0 1,0 -4.60,0 M50.46,431.65 a2.30,2.30 0 1,0 4.60,0 a2.30,2.30 0 1,0 -4.60,0 M52.51,431.17 a2.30,2.30 0 1,0 4.60,0 a2.30,2.30 0 1,0 -4.60,0 M54.55,431.02 a2.30,2.30 0 1,0 4.60,0 a2.30,2.30 0 1,0 -4.60,0 M56.60,429.99 a2.30,2.30 0 1,0 4.60,0 a2.30,2.30 0 1,0 -4.60,0 M58.65,428.85 a2.30,2.30 0 1,0 4.60,0 a2.30,2.30 0 1,0 -4.60,0 M60.70,430.95 a2.30,2.30 0 1,0 4.60,0 a2.30,2.30 0 1,0 -4.60,0 M62.75,429.14 a2.30,2.30 0 1,0 4.60,0 a2.30,2.30 0 1,0 -4.60,0 M64.79,430.56 a2.30,2.30 0 1,0 4.60,0 a2.30,2.30 0 1,0 -4.60,0 M66.84,430.75 a2.30,2.30 0 1,0 4.60,0 a2.30,2.30 0 1,0 -4.60,0 M68.89,427.98 a2.30,2.30 0 1,0 4.60,0 a2.30,2.30 0 1,0 -4.60,0 M70.94,427.08 a2.30,2.30 0 1,0 4.60,0 a2.30,2.30 0 1,0 -4.60,0 M72.99,427.71 a2.30,2.30 0 1,0 4.60,0 a2.30,2.30 0 1,0 -4.60,0 M75.03,424.93 a2.30,2.30 0 1,0 4.60,0 a2.30,2.30 0 1,0 -4.60,0 M77.08,420.18 a2.30,2.30 0 1,0 4.60,0 a2.30,2.30 0 1,0 -4.60,0 M79.13,416.42 a2.30,2.30 0 1,0 4.60,0 a2.30,2.30 0 1,0 -4.60,0 M81.18,412.02 a2.30,2.30 0 1,0 4.60,0 a2.30,2.30 0 1,0 -4.60,0 M83.23,409.48 a2.30,2.30 0 1,0 4.60,0 a2.30,2.30 0 1,0 -4.60,0 M85.27,403.29 a2.30,2.30 0 1,0 4.60,0 a2.30,2.30 0 1,0 -4.60,0 M87.32,394.82 a2.30,2.30 0 1,0 4.60,0 a2.30,2.30 0 1,0 -4.60,0 M89.37,391.29 a2.30,2.30 0 1,0 4.60,0 a2.30,2.30 0 1,0 -4.60,0 M91.42,386.35 a2.30,2.30 0 1,0 4.60,0 a2.30,2.30 0 1,0 -4.60,0 M93.47,380.47 a2.30,2.30 0 1,0 4.60,0 a2.30,2.30 0 1,0 -4.60,0 M95.51,375.55 a2.30,2.30 0 1,0 4.60,0 a2.30,2.30 0 1,0 -4.60,0 M97.56,373.35 a2.30,2.30 0 1,0 4.60,0 a2.30,2.30 0 1,0 -4.60,0 M99.61,369.41 a2.30,2.30 0 1,0 4.60,0 a2.30,2.30 0 1,0 -4.60,0 M101.66,366.68 a2.30,2.30 0 1,0 4.60,0 a2.30,2.30 0 1,0 -4.60,0 M103.71,367.23 a2.30,2.30 0 1,0 4.60,0 a2.30,2.30 0 1,0 -4.60,0 M105.75,361.92 a2.30,2.30 0 1,0 4.60,0 a2.30,2.30 0 1,0 -4.60,0 M107.80,355.52 a2.30,2.30 0 1,0 4.60,0 a2.30,2.30 0 1,0 -4.60,0 M109.85,349.00 a2.30,2.30 0 1,0 4.60,0 a2.30,2.30 0 1,0 -4.60,0 M111.90,337.30 a2.30,2.30 0 1,0 4.60,0 a2.30,2.30 0 1,0 -4.60,0 M113.95,327.53 a2.30,2.30 0 1,0 4.60,0 a2.30,2.30 0 1,0 -4.60,0 M115.99,315.39 a2.30,2.30 0 1,0 4.60,0 a2.30,2.30 0 1,0 -4.60,0 M118.04,300.57 a2.30,2.30 0 1,0 4.60,0 a2.30,2.30 0 1,0 -4.60,0 M120.09,290.56 a2.30,2.30 0 1,0 4.60,0 a2.30,2.30 0 1,0 -4.60,0 M122.14,283.02 a2.30,2.30 0 1,0 4.60,0 a2.30,2.30 0 1,0 -4.60,0 M124.19,278.38 a2.30,2.30 0 1,0 4.60,0 a2.30,2.30 0 1,0 -4.60,0 M126.23,278.81 a2.30,2.30 0 1,0 4.60,0 a2.30,2.30 0 1,0 -4.60,0 M128.28,280.16 a2.30,2.30 0 1,0 4.60,0 a2.30,2.30 0 1,0 -4.60,0 M130.33,286.27 a2.30,2.30 0 1,0 4.60,0 a2.30,2.30 0 1,0 -4.60,0 M132.38,293.29 a2.30,2.30 0 1,0 4.60,0 a2.30,2.30 0 1,0 -4.60,0 M134.43,305.98 a2.30,2.30 0 1,0 4.60,0 a2.30,2.30 0 1,0 -4.60,0 M136.47,314.89 a2.30,2.30 0 1,0 4.60,0 a2.30,2.30 0 1,0 -4.60,0 M138.52,326.37 a2.30,2.30 0 1,0 4.60,0 a2.30,2.30 0 1,0 -4.60,0 M140.57,337.33 a2.30,2.30 0 1,0 4.60,0 a2.30,2.30 0 1,0 -4.60,0 M142.62,347.79 a2.30,2.30 0 1,0 4.60,0 a2.30,2.30 0 1,0 -4.60,0 M144.67,353.73 a2.30,2.30 0 1,0 4.60,0 a2.30,2.30 0 1,0 -4.60,0 M146.71,361.41 a2.30,2.30 0 1,0 4.60,0 a2.30,2.30 0 1,0 -4.60,0 M148.76,364.05 a2.30,2.30 0 1,0 4.60,0 a2.30,2.30 0 1,0 -4.60,0 M150.81,366.78 a2.30,2.30 0 1,0 4.60,0 a2.30,2.30 0 1,0 -4.60,0 M152.86,368.20 a2.30,2.30 0 1,0 4.60,0 a2.30,2.30 0 1,0 -4.60,0 M154.91,367.04 a2.30,2.30 0 1,0 4.60,0 a2.30,2.30 0 1,0 -4.60,0 M156.95,368.74 a2.30,2.30 0 1,0 4.60,0 a2.30,2.30 0 1,0 -4.60,0 M159.00,368.00 a2.30,2.30 0 1,0 4.60,0 a2.30,2.30 0 1,0 -4.60,0 M161.05,368.12 a2.30,2.30 0 1,0 4.60,0 a2.30,2.30 0 1,0 -4.60,0 M163.10,372.03 a2.30,2.30 0 1,0 4.60,0 a2.30,2.30 0 1,0 -4.60,0 M165.15,370.55 a2.30,2.30 0 1,0 4.60,0 a2.30,2.30 0 1,0 -4.60,0 M167.19,371.53 a2.30,2.30 0 1,0 4.60,0 a2.30,2.30 0 1,0 -4.60,0 M169.24,370.97 a2.30,2.30 0 1,0 4.60,0 a2.30,2.30 0 1,0 -4.60,0 M171.29,367.33 a2.30,2.30 0 1,0 4.60,0 a2.30,2.30 0 1,0 -4.60,0 M173.34,361.94 a2.30,2.30 0 1,0 4.60,0 a2.30,2.30 0 1,0 -4.60,0 M175.39,356.83 a2.30,2.30 0 1,0 4.60,0 a2.30,2.30 0 1,0 -4.60,0 M177.43,350.38 a2.30,2.30 0 1,0 4.60,0 a2.30,2.30 0 1,0 -4.60,0 M179.48,344.36 a2.30,2.30 0 1,0 4.60,0 a2.30,2.30 0 1,0 -4.60,0 M181.53,335.34 a2.30,2.30 0 1,0 4.60,0 a2.30,2.30 0 1,0 -4.60,0 M183.58,331.14 a2.30,2.30 0 1,0 4.60,0 a2.30,2.30 0 1,0 -4.60,0 M185.63,325.35 a2.30,2.30 0 1,0 4.60,0 a2.30,2.30 0 1,0 -4.60,0 M187.67,322.28 a2.30,2.30 0 1,0 4.60,0 a2.30,2.30 0 1,0 -4.60,0 M189.72,322.22 a2.30,2.30 0 1,0 4.60,0 a2.30,2.30 0 1,0 -4.60,0 M191.77,321.80 a2.30,2.30 0 1,0 4.60,0 a2.30,2.30 0 1,0 -4.60,0 M193.82,324.53 a2.30,2.30 0 1,0 4.60,0 a2.30,2.30 0 1,0 -4.60,0 M195.87,329.61 a2.30,2.30 0 1,0 4.60,0 a2.30,2.30 0 1,0 -4.60,0 M197.91,336.06 a2.30,2.30 0 1,0 4.60,0 a2.30,2.30 0 1,0 -4.60,0 M199.96,341.44 a2.30,2.30 0 1,0 4.60,0 a2.30,2.30 0 1,0 -4.60,0 M202.01,349.90 a2.30,2.30 0 1,0 4.60,0 a2.30,2.30 0 1,0 -4.60,0 M204.06,357.74 a2.30,2.30 0 1,0 4.60,0 a2.30,2.30 0 1,0 -4.60,0 M206.11,365.98 a2.30,2.30 0 1,0 4.60,0 a2.30,2.30 0 1,0 -4.60,0 M208.15,374.52 a2.30,2.30 0 1,0 4.60,0 a2.30,2.30 0 1,0 -4.60,0 M210.20,380.97 a2.30,2.30 0 1,0 4.60,0 a2.30,2.30 0 1,0 -4.60,0 M212.25,387.82 a2.30,2.30 0 1,0 4.60,0 a2.30,2.30 0 1,0 -4.60,0 M214.30,393.34 a2.30,2.30 0 1,0 4.60,0 a2.30,2.30 0 1,0 -4.60,0 M216.35,399.85 a2.30,2.30 0 1,0 4.60,0 a2.30,2.30 0 1,0 -4.60,0 M218.39,402.98 a2.30,2.30 0 1,0 4.60,0 a2.30,2.30 0 1,0 -4.60,0 M220.44,406.83 a2.30,2.30 0 1,0 4.60,0 a2.30,2.30 0 1,0 -4.60,0 M222.49,409.60 a2.30,2.30 0 1,0 4.60,0 a2.30,2.30 0 1,0 -4.60,0 M224.54,409.09 a2.30,2.30 0 1,0 4.60,0 a2.30,2.30 0 1,0 -4.60,0 M226.59,411.64 a2.30,2.30 0 1,0 4.60,0 a2.30,2.30 0 1,0 -4.60,0 M228.63,414.06 a2.30,2.30 0 1,0 4.60,0 a2.30,2.30 0 1,0 -4.60,0 M230.68,414.37 a2.30,2.30 0 1,0 4.60,0 a2.30,2.30 0 1,0 -4.60,0 M232.73,412.31 a2.30,2.30 0 1,0 4.60,0 a2.30,2.30 0 1,0 -4.60,0 M234.78,412.56 a2.30,2.30 0 1,0 4.60,0 a2.30,2.30 0 1,0 -4.60,0 M236.83,413.92 a2.30,2.30 0 1,0 4.60,0 a2.30,2.30 0 1,0 -4.60,0 M238.87,412.72 a2.30,2.30 0 1,0 4.60,0 a2.30,2.30 0 1,0 -4.60,0 M240.92,413.40 a2.30,2.30 0 1,0 4.60,0 a2.30,2.30 0 1,0 -4.60,0 M242.97,412.84 a2.30,2.30 0 1,0 4.60,0 a2.30,2.30 0 1,0 -4.60,0 M245.02,415.01 a2.30,2.30 0 1,0 4.60,0 a2.30,2.30 0 1,0 -4.60,0 M247.07,415.43 a2.30,2.30 0 1,0 4.60,0 a2.30,2.30 0 1,0 -4.60,0 M249.11,415.83 a2.30,2.30 0 1,0 4.60,0 a2.30,2.30 0 1,0 -4.60,0 M251.16,413.15 a2.30,2.30 0 1,0 4.60,0 a2.30,2.30 0 1,0 -4.60,0 M253.21,415.17 a2.30,2.30 0 1,0 4.60,0 a2.30,2.30 0 1,0 -4.60,0 M255.26,414.95 a2.30,2.30 0 1,0 4.60,0 a2.30,2.30 0 1,0 -4.60,0 M257.31,413.08 a2.30,2.30 0 1,0 4.60,0 a2.30,2.30 0 1,0 -4.60,0 M259.35,415.72 a2.30,2.30 0 1,0 4.60,0 a2.30,2.30 0 1,0 -4.60,0 M261.40,416.01 a2.30,2.30 0 1,0 4.60,0 a2.30,2.30 0 1,0 -4.60,0 M263.45,413.30 a2.30,2.30 0 1,0 4.60,0 a2.30,2.30 0 1,0 -4.60,0 M265.50,415.93 a2.30,2.30 0 1,0 4.60,0 a2.30,2.30 0 1,0 -4.60,0 M267.55,413.91 a2.30,2.30 0 1,0 4.60,0 a2.30,2.30 0 1,0 -4.60,0 M269.59,414.22 a2.30,2.30 0 1,0 4.60,0 a2.30,2.30 0 1,0 -4.60,0 M271.64,416.01 a2.30,2.30 0 1,0 4.60,0 a2.30,2.30 0 1,0 -4.60,0 M273.69,415.42 a2.30,2.30 0 1,0 4.60,0 a2.30,2.30 0 1,0 -4.60,0 M275.74,412.99 a2.30,2.30 0 1,0 4.60,0 a2.30,2.30 0 1,0 -4.60,0 M277.79,413.94 a2.30,2.30 0 1,0 4.60,0 a2.30,2.30 0 1,0 -4.60,0" fill="none" stroke="#ee3535" stroke-width="1.05"/>
<path d="M36.90,434.41 L37.40,434.40 L37.90,434.40 L38.40,434.39 L38.90,434.39 L39.40,434.38 L39.90,434.38 L40.40,434.37 L40.90,434.36 L41.40,434.36 L41.90,434.35 L42.40,434.35 L42.90,434.34 L43.40,434.33 L43.90,434.33 L44.40,434.32 L44.90,434.32 L45.40,434.31 L45.90,434.31 L46.40,434.30 L46.90,434.29 L47.40,434.29 L47.90,434.28 L48.40,434.28 L48.90,434.27 L49.40,434.26 L49.90,434.26 L50.40,434.25 L50.90,434.25 L51.40,434.24 L51.90,434.23 L52.40,434.23 L52.90,434.22 L53.40,434.21 L53.90,434.21 L54.40,434.20 L54.90,434.19 L55.40,434.19 L55.90,434.18 L56.40,434.17 L56.90,434.16 L57.40,434.15 L57.90,434.14 L58.40,434.13 L58.90,434.12 L59.40,434.11 L59.90,434.09 L60.40,434.08 L60.90,434.06 L61.40,434.04 L61.90,434.02 L62.40,433.99 L62.90,433.97 L63.40,433.94 L63.90,433.90 L64.40,433.86 L64.90,433.82 L65.40,433.76 L65.90,433.71 L66.40,433.64 L66.90,433.57 L67.40,433.49 L67.90,433.39 L68.40,433.29 L68.90,433.17 L69.40,433.04 L69.90,432.89 L70.40,432.72 L70.90,432.54 L71.40,432.33 L71.90,432.11 L72.40,431.85 L72.90,431.58 L73.40,431.27 L73.90,430.93 L74.40,430.56 L74.90,430.16 L75.40,429.72 L75.90,429.24 L76.40,428.73 L76.90,428.17 L77.40,427.56 L77.90,426.91 L78.40,426.21 L78.90,425.47 L79.40,424.67 L79.90,423.83 L80.40,422.93 L80.90,421.99 L81.40,420.99 L81.90,419.94 L82.40,418.85 L82.90,417.70 L83.40,416.51 L83.90,415.28 L84.40,414.01 L84.90,412.70 L85.40,411.36 L85.90,409.98 L86.40,408.59 L86.90,407.17 L87.40,405.74 L87.90,404.31 L88.40,402.87 L88.90,401.44 L89.40,400.02 L89.90,398.62 L90.40,397.25 L90.90,395.91 L91.40,394.62 L91.90,393.37 L92.40,392.18 L92.90,391.06 L93.40,390.00 L93.90,389.03 L94.40,388.14 L94.90,387.33 L95.40,386.62 L95.90,386.01 L96.40,385.51 L96.90,385.11 L97.40,384.81 L97.90,384.63 L98.40,384.56 L98.90,384.61 L99.40,384.78 L99.90,385.08 L100.40,385.50 L100.90,386.03 L101.40,386.67 L101.90,387.41 L102.40,388.26 L102.90,389.20 L103.40,390.23 L103.90,391.33 L104.40,392.50 L104.90,393.74 L105.40,395.03 L105.90,396.36 L106.40,397.72 L106.90,399.12 L107.40,400.53 L107.90,401.94 L108.40,403.36 L108.90,404.78 L109.40,406.18 L109.90,407.56 L110.40,408.91 L110.90,410.23 L111.40,411.51 L111.90,412.75 L112.40,413.94 L112.90,415.08 L113.40,416.17 L113.90,417.21 L114.40,418.18 L114.90,419.11 L115.40,419.97 L115.90,420.77 L116.40,421.52 L116.90,422.21 L117.40,422.85 L117.90,423.43 L118.40,423.95 L118.90,424.43 L119.40,424.86 L119.90,425.24 L120.40,425.57 L120.90,425.87 L121.40,426.12 L121.90,426.34 L122.40,426.52 L122.90,426.67 L123.40,426.80 L123.90,426.89 L124.40,426.96 L124.90,427.00 L125.40,427.03 L125.90,427.03 L126.40,427.02 L126.90,427.00 L127.40,426.96 L127.90,426.91 L128.40,426.85 L128.90,426.78 L129.40,426.70 L129.90,426.62 L130.40,426.53 L130.90,426.43 L131.40,426.33 L131.90,426.23 L132.40,426.13 L132.90,426.02 L133.40,425.91 L133.90,425.81 L134.40,425.70 L134.90,425.59 L135.40,425.49 L135.90,425.38 L136.40,425.27 L136.90,425.17 L137.40,425.07 L137.90,424.97 L138.40,424.87 L138.90,424.77 L139.40,424.68 L139.90,424.59 L140.40,424.50 L140.90,424.41 L141.40,424.32 L141.90,424.24 L142.40,424.16 L142.90,424.08 L143.40,424.00 L143.90,423.93 L144.40,423.85 L144.90,423.78 L145.40,423.71 L145.90,423.65 L146.40,423.58 L146.90,423.52 L147.40,423.45 L147.90,423.39 L148.40,423.33 L148.90,423.27 L149.40,423.21 L149.90,423.16 L150.40,423.10 L150.90,423.05 L151.40,422.99 L151.90,422.94 L152.40,422.88 L152.90,422.83 L153.40,422.78 L153.90,422.73 L154.40,422.68 L154.90,422.63 L155.40,422.57 L155.90,422.52 L156.40,422.47 L156.90,422.42 L157.40,422.37 L157.90,422.32 L158.40,422.27 L158.90,422.22 L159.40,422.17 L159.90,422.13 L160.40,422.08 L160.90,422.03 L161.40,421.98 L161.90,421.93 L162.40,421.88 L162.90,421.83 L163.40,421.78 L163.90,421.73 L164.40,421.68 L164.90,421.64 L165.40,421.59 L165.90,421.54 L166.40,421.49 L166.90,421.45 L167.40,421.40 L167.90,421.35 L168.40,421.31 L168.90,421.26 L169.40,421.22 L169.90,421.17 L170.40,421.12 L170.90,421.08 L171.40,421.03 L171.90,420.98 L172.40,420.93 L172.90,420.88 L173.40,420.83 L173.90,420.78 L174.40,420.73 L174.90,420.68 L175.40,420.63 L175.90,420.57 L176.40,420.52 L176.90,420.46 L177.40,420.41 L177.90,420.35 L178.40,420.29 L178.90,420.23 L179.40,420.16 L179.90,420.10 L180.40,420.04 L180.90,419.97 L181.40,419.90 L181.90,419.83 L182.40,419.76 L182.90,419.69 L183.40,419.62 L183.90,419.54 L184.40,419.47 L184.90,419.39 L185.40,419.31 L185.90,419.23 L186.40,419.15 L186.90,419.07 L187.40,418.99 L187.90,418.91 L188.40,418.82 L188.90,418.74 L189.40,418.65 L189.90,418.57 L190.40,418.48 L190.90,418.39 L191.40,418.31 L191.90,418.22 L192.40,418.13 L192.90,418.05 L193.40,417.96 L193.90,417.87 L194.40,417.79 L194.90,417.70 L195.40,417.62 L195.90,417.53 L196.40,417.45 L196.90,417.37 L197.40,417.28 L197.90,417.20 L198.40,417.12 L198.90,417.04 L199.40,416.97 L199.90,416.89 L200.40,416.82 L200.90,416.74 L201.40,416.67 L201.90,416.60 L202.40,416.53 L202.90,416.46 L203.40,416.40 L203.90,416.33 L204.40,416.27 L204.90,416.21 L205.40,416.15 L205.90,416.10 L206.40,416.04 L206.90,415.99 L207.40,415.94 L207.90,415.89 L208.40,415.84 L208.90,415.79 L209.40,415.75 L209.90,415.70 L210.40,415.66 L210.90,415.62 L211.40,415.58 L211.90,415.55 L212.40,415.51 L212.90,415.48 L213.40,415.45 L213.90,415.41 L214.40,415.38 L214.90,415.36 L215.40,415.33 L215.90,415.30 L216.40,415.28 L216.90,415.25 L217.40,415.23 L217.90,415.21 L218.40,415.19 L218.90,415.17 L219.40,415.15 L219.90,415.13 L220.40,415.12 L220.90,415.10 L221.40,415.08 L221.90,415.07 L222.40,415.06 L222.90,415.04 L223.40,415.03 L223.90,415.02 L224.40,415.00 L224.90,414.99 L225.40,414.98 L225.90,414.97 L226.40,414.96 L226.90,414.95 L227.40,414.94 L227.90,414.93 L228.40,414.92 L228.90,414.91 L229.40,414.90 L229.90,414.90 L230.40,414.89 L230.90,414.88 L231.40,414.87 L231.90,414.87 L232.40,414.86 L232.90,414.85 L233.40,414.84 L233.90,414.84 L234.40,414.83 L234.90,414.82 L235.40,414.82 L235.90,414.81 L236.40,414.80 L236.90,414.80 L237.40,414.79 L237.90,414.78 L238.40,414.78 L238.90,414.77 L239.40,414.76 L239.90,414.76 L240.40,414.75 L240.90,414.74 L241.40,414.74 L241.90,414.73 L242.40,414.73 L242.90,414.72 L243.40,414.71 L243.90,414.71 L244.40,414.70 L244.90,414.70 L245.40,414.69 L245.90,414.68 L246.40,414.68 L246.90,414.67 L247.40,414.67 L247.90,414.66 L248.40,414.65 L248.90,414.65 L249.40,414.64 L249.90,414.64 L250.40,414.63 L250.90,414.62 L251.40,414.62 L251.90,414.61 L252.40,414.61 L252.90,414.60 L253.40,414.59 L253.90,414.59 L254.40,414.58 L254.90,414.58 L255.40,414.57 L255.90,414.57 L256.40,414.56 L256.90,414.55 L257.40,414.55 L257.90,414.54 L258.40,414.54 L258.90,414.53 L259.40,414.52 L259.90,414.52 L260.40,414.51 L260.90,414.51 L261.40,414.50 L261.90,414.49 L262.40,414.49 L262.90,414.48 L263.40,414.48 L263.90,414.47 L264.40,414.46 L264.90,414.46 L265.40,414.45 L265.90,414.45 L266.40,414.44 L266.90,414.44 L267.40,414.43 L267.90,414.42 L268.40,414.42 L268.90,414.41 L269.40,414.41 L269.90,414.40 L270.40,414.39 L270.90,414.39 L271.40,414.38 L271.90,414.38 L272.40,414.37 L272.90,414.37 L273.40,414.36 L273.90,414.35 L274.40,414.35 L274.90,414.34 L275.40,414.34 L275.90,414.33 L276.40,414.32 L276.90,414.32 L277.40,414.31 L277.90,414.31 L278.40,414.30 L278.90,414.30 L279.40,414.29 L279.90,414.28 L280.40,414.28 L280.90,414.27 L281.40,414.27 L281.90,414.26" fill="none" stroke="#239a23" stroke-width="1.15" stroke-linejoin="round"/>
<path d="M36.90,434.41 L37.40,434.40 L37.90,434.40 L38.40,434.39 L38.90,434.39 L39.40,434.38 L39.90,434.38 L40.40,434.37 L40.90,434.36 L41.40,434.36 L41.90,434.35 L42.40,434.35 L42.90,434.34 L43.40,434.33 L43.90,434.33 L44.40,434.32 L44.90,434.32 L45.40,434.31 L45.90,434.31 L46.40,434.30 L46.90,434.29 L47.40,434.29 L47.90,434.28 L48.40,434.28 L48.90,434.27 L49.40,434.27 L49.90,434.26 L50.40,434.25 L50.90,434.25 L51.40,434.24 L51.90,434.24 L52.40,434.23 L52.90,434.22 L53.40,434.22 L53.90,434.21 L54.40,434.21 L54.90,434.20 L55.40,434.20 L55.90,434.19 L56.40,434.18 L56.90,434.18 L57.40,434.17 L57.90,434.17 L58.40,434.16 L58.90,434.15 L59.40,434.15 L59.90,434.14 L60.40,434.14 L60.90,434.13 L61.40,434.13 L61.90,434.12 L62.40,434.11 L62.90,434.11 L63.40,434.10 L63.90,434.10 L64.40,434.09 L64.90,434.08 L65.40,434.08 L65.90,434.07 L66.40,434.07 L66.90,434.06 L67.40,434.05 L67.90,434.05 L68.40,434.04 L68.90,434.03 L69.40,434.03 L69.90,434.02 L70.40,434.01 L70.90,434.00 L71.40,434.00 L71.90,433.99 L72.40,433.98 L72.90,433.97 L73.40,433.96 L73.90,433.95 L74.40,433.94 L74.90,433.93 L75.40,433.92 L75.90,433.91 L76.40,433.89 L76.90,433.88 L77.40,433.86 L77.90,433.85 L78.40,433.83 L78.90,433.81 L79.40,433.79 L79.90,433.76 L80.40,433.74 L80.90,433.71 L81.40,433.67 L81.90,433.64 L82.40,433.60 L82.90,433.56 L83.40,433.51 L83.90,433.46 L84.40,433.40 L84.90,433.33 L85.40,433.26 L85.90,433.18 L86.40,433.09 L86.90,433.00 L87.40,432.89 L87.90,432.77 L88.40,432.63 L88.90,432.49 L89.40,432.32 L89.90,432.15 L90.40,431.95 L90.90,431.73 L91.40,431.49 L91.90,431.22 L92.40,430.93 L92.90,430.61 L93.40,430.26 L93.90,429.88 L94.40,429.46 L94.90,429.00 L95.40,428.50 L95.90,427.95 L96.40,427.35 L96.90,426.71 L97.40,426.00 L97.90,425.24 L98.40,424.42 L98.90,423.53 L99.40,422.57 L99.90,421.54 L100.40,420.43 L100.90,419.24 L101.40,417.96 L101.90,416.60 L102.40,415.15 L102.90,413.60 L103.40,411.95 L103.90,410.20 L104.40,408.35 L104.90,406.39 L105.40,404.33 L105.90,402.16 L106.40,399.88 L106.90,397.48 L107.40,394.98 L107.90,392.37 L108.40,389.65 L108.90,386.82 L109.40,383.89 L109.90,380.85 L110.40,377.72 L110.90,374.50 L111.40,371.19 L111.90,367.80 L112.40,364.34 L112.90,360.81 L113.40,357.22 L113.90,353.59 L114.40,349.91 L114.90,346.21 L115.40,342.49 L115.90,338.77 L116.40,335.05 L116.90,331.36 L117.40,327.70 L117.90,324.08 L118.40,320.53 L118.90,317.05 L119.40,313.66 L119.90,310.37 L120.40,307.20 L120.90,304.16 L121.40,301.26 L121.90,298.51 L122.40,295.94 L122.90,293.54 L123.40,291.34 L123.90,289.33 L124.40,287.54 L124.90,285.96 L125.40,284.61 L125.90,283.49 L126.40,282.61 L126.90,281.97 L127.40,281.57 L127.90,281.42 L128.40,281.48 L128.90,281.76 L129.40,282.24 L129.90,282.93 L130.40,283.83 L130.90,284.93 L131.40,286.22 L131.90,287.70 L132.40,289.36 L132.90,291.20 L133.40,293.20 L133.90,295.37 L134.40,297.68 L134.90,300.13 L135.40,302.71 L135.90,305.41 L136.40,308.22 L136.90,311.12 L137.40,314.11 L137.90,317.18 L138.40,320.31 L138.90,323.49 L139.40,326.72 L139.90,329.98 L140.40,333.25 L140.90,336.54 L141.40,339.83 L141.90,343.11 L142.40,346.37 L142.90,349.60 L143.40,352.80 L143.90,355.96 L144.40,359.06 L144.90,362.11 L145.40,365.09 L145.90,368.01 L146.40,370.85 L146.90,373.62 L147.40,376.30 L147.90,378.90 L148.40,381.41 L148.90,383.83 L149.40,386.16 L149.90,388.40 L150.40,390.54 L150.90,392.59 L151.40,394.55 L151.90,396.41 L152.40,398.18 L152.90,399.85 L153.40,401.44 L153.90,402.94 L154.40,404.36 L154.90,405.69 L155.40,406.94 L155.90,408.11 L156.40,409.20 L156.90,410.23 L157.40,411.18 L157.90,412.06 L158.40,412.88 L158.90,413.64 L159.40,414.34 L159.90,414.99 L160.40,415.58 L160.90,416.13 L161.40,416.63 L161.90,417.08 L162.40,417.49 L162.90,417.87 L163.40,418.21 L163.90,418.51 L164.40,418.79 L164.90,419.04 L165.40,419.26 L165.90,419.45 L166.40,419.63 L166.90,419.78 L167.40,419.92 L167.90,420.03 L168.40,420.13 L168.90,420.22 L169.40,420.29 L169.90,420.35 L170.40,420.40 L170.90,420.44 L171.40,420.47 L171.90,420.49 L172.40,420.50 L172.90,420.50 L173.40,420.50 L173.90,420.49 L174.40,420.48 L174.90,420.46 L175.40,420.43 L175.90,420.41 L176.40,420.37 L176.90,420.34 L177.40,420.30 L177.90,420.25 L178.40,420.21 L178.90,420.16 L179.40,420.10 L179.90,420.05 L180.40,419.99 L180.90,419.93 L181.40,419.87 L181.90,419.80 L182.40,419.74 L182.90,419.67 L183.40,419.60 L183.90,419.53 L184.40,419.45 L184.90,419.38 L185.40,419.30 L185.90,419.22 L186.40,419.14 L186.90,419.06 L187.40,418.98 L187.90,418.90 L188.40,418.82 L188.90,418.73 L189.40,418.65 L189.90,418.56 L190.40,418.48 L190.90,418.39 L191.40,418.31 L191.90,418.22 L192.40,418.13 L192.90,418.05 L193.40,417.96 L193.90,417.87 L194.40,417.79 L194.90,417.70 L195.40,417.62 L195.90,417.53 L196.40,417.45 L196.90,417.37 L197.40,417.28 L197.90,417.20 L198.40,417.12 L198.90,417.04 L199.40,416.97 L199.90,416.89 L200.40,416.82 L200.90,416.74 L201.40,416.67 L201.90,416.60 L202.40,416.53 L202.90,416.46 L203.40,416.40 L203.90,416.33 L204.40,416.27 L204.90,416.21 L205.40,416.15 L205.90,416.10 L206.40,416.04 L206.90,415.99 L207.40,415.94 L207.90,415.89 L208.40,415.84 L208.90,415.79 L209.40,415.75 L209.90,415.70 L210.40,415.66 L210.90,415.62 L211.40,415.58 L211.90,415.55 L212.40,415.51 L212.90,415.48 L213.40,415.45 L213.90,415.41 L214.40,415.38 L214.90,415.36 L215.40,415.33 L215.90,415.30 L216.40,415.28 L216.90,415.25 L217.40,415.23 L217.90,415.21 L218.40,415.19 L218.90,415.17 L219.40,415.15 L219.90,415.13 L220.40,415.12 L220.90,415.10 L221.40,415.08 L221.90,415.07 L222.40,415.06 L222.90,415.04 L223.40,415.03 L223.90,415.02 L224.40,415.00 L224.90,414.99 L225.40,414.98 L225.90,414.97 L226.40,414.96 L226.90,414.95 L227.40,414.94 L227.90,414.93 L228.40,414.92 L228.90,414.91 L229.40,414.90 L229.90,414.90 L230.40,414.89 L230.90,414.88 L231.40,414.87 L231.90,414.87 L232.40,414.86 L232.90,414.85 L233.40,414.84 L233.90,414.84 L234.40,414.83 L234.90,414.82 L235.40,414.82 L235.90,414.81 L236.40,414.80 L236.90,414.80 L237.40,414.79 L237.90,414.78 L238.40,414.78 L238.90,414.77 L239.40,414.76 L239.90,414.76 L240.40,414.75 L240.90,414.74 L241.40,414.74 L241.90,414.73 L242.40,414.73 L242.90,414.72 L243.40,414.71 L243.90,414.71 L244.40,414.70 L244.90,414.70 L245.40,414.69 L245.90,414.68 L246.40,414.68 L246.90,414.67 L247.40,414.67 L247.90,414.66 L248.40,414.65 L248.90,414.65 L249.40,414.64 L249.90,414.64 L250.40,414.63 L250.90,414.62 L251.40,414.62 L251.90,414.61 L252.40,414.61 L252.90,414.60 L253.40,414.59 L253.90,414.59 L254.40,414.58 L254.90,414.58 L255.40,414.57 L255.90,414.57 L256.40,414.56 L256.90,414.55 L257.40,414.55 L257.90,414.54 L258.40,414.54 L258.90,414.53 L259.40,414.52 L259.90,414.52 L260.40,414.51 L260.90,414.51 L261.40,414.50 L261.90,414.49 L262.40,414.49 L262.90,414.48 L263.40,414.48 L263.90,414.47 L264.40,414.46 L264.90,414.46 L265.40,414.45 L265.90,414.45 L266.40,414.44 L266.90,414.44 L267.40,414.43 L267.90,414.42 L268.40,414.42 L268.90,414.41 L269.40,414.41 L269.90,414.40 L270.40,414.39 L270.90,414.39 L271.40,414.38 L271.90,414.38 L272.40,414.37 L272.90,414.37 L273.40,414.36 L273.90,414.35 L274.40,414.35 L274.90,414.34 L275.40,414.34 L275.90,414.33 L276.40,414.32 L276.90,414.32 L277.40,414.31 L277.90,414.31 L278.40,414.30 L278.90,414.30 L279.40,414.29 L279.90,414.28 L280.40,414.28 L280.90,414.27 L281.40,414.27 L281.90,414.26" fill="none" stroke="#2a2ae8" stroke-width="1.15" stroke-linejoin="round"/>
<path d="M36.90,434.37 L37.40,434.37 L37.90,434.36 L38.40,434.36 L38.90,434.35 L39.40,434.34 L39.90,434.34 L40.40,434.33 L40.90,434.33 L41.40,434.32 L41.90,434.31 L42.40,434.31 L42.90,434.30 L43.40,434.30 L43.90,434.29 L44.40,434.28 L44.90,434.28 L45.40,434.27 L45.90,434.27 L46.40,434.26 L46.90,434.25 L47.40,434.25 L47.90,434.24 L48.40,434.24 L48.90,434.23 L49.40,434.22 L49.90,434.22 L50.40,434.21 L50.90,434.21 L51.40,434.20 L51.90,434.19 L52.40,434.19 L52.90,434.18 L53.40,434.17 L53.90,434.17 L54.40,434.16 L54.90,434.16 L55.40,434.15 L55.90,434.14 L56.40,434.14 L56.90,434.13 L57.40,434.13 L57.90,434.12 L58.40,434.11 L58.90,434.11 L59.40,434.10 L59.90,434.09 L60.40,434.09 L60.90,434.08 L61.40,434.08 L61.90,434.07 L62.40,434.06 L62.90,434.06 L63.40,434.05 L63.90,434.04 L64.40,434.04 L64.90,434.03 L65.40,434.03 L65.90,434.02 L66.40,434.01 L66.90,434.01 L67.40,434.00 L67.90,433.99 L68.40,433.99 L68.90,433.98 L69.40,433.97 L69.90,433.96 L70.40,433.96 L70.90,433.95 L71.40,433.94 L71.90,433.93 L72.40,433.93 L72.90,433.92 L73.40,433.91 L73.90,433.90 L74.40,433.89 L74.90,433.88 L75.40,433.87 L75.90,433.86 L76.40,433.85 L76.90,433.84 L77.40,433.83 L77.90,433.82 L78.40,433.80 L78.90,433.79 L79.40,433.78 L79.90,433.76 L80.40,433.75 L80.90,433.73 L81.40,433.71 L81.90,433.70 L82.40,433.68 L82.90,433.66 L83.40,433.64 L83.90,433.61 L84.40,433.59 L84.90,433.57 L85.40,433.54 L85.90,433.52 L86.40,433.49 L86.90,433.46 L87.40,433.43 L87.90,433.40 L88.40,433.36 L88.90,433.33 L89.40,433.29 L89.90,433.26 L90.40,433.22 L90.90,433.18 L91.40,433.14 L91.90,433.10 L92.40,433.06 L92.90,433.01 L93.40,432.97 L93.90,432.92 L94.40,432.87 L94.90,432.82 L95.40,432.77 L95.90,432.72 L96.40,432.67 L96.90,432.62 L97.40,432.57 L97.90,432.51 L98.40,432.46 L98.90,432.40 L99.40,432.35 L99.90,432.29 L100.40,432.23 L100.90,432.18 L101.40,432.12 L101.90,432.06 L102.40,432.00 L102.90,431.94 L103.40,431.88 L103.90,431.82 L104.40,431.76 L104.90,431.70 L105.40,431.64 L105.90,431.58 L106.40,431.51 L106.90,431.45 L107.40,431.38 L107.90,431.32 L108.40,431.25 L108.90,431.18 L109.40,431.12 L109.90,431.05 L110.40,430.97 L110.90,430.90 L111.40,430.83 L111.90,430.75 L112.40,430.67 L112.90,430.59 L113.40,430.51 L113.90,430.43 L114.40,430.34 L114.90,430.25 L115.40,430.16 L115.90,430.07 L116.40,429.97 L116.90,429.88 L117.40,429.78 L117.90,429.67 L118.40,429.57 L118.90,429.46 L119.40,429.35 L119.90,429.24 L120.40,429.12 L120.90,429.01 L121.40,428.89 L121.90,428.77 L122.40,428.64 L122.90,428.52 L123.40,428.39 L123.90,428.26 L124.40,428.13 L124.90,428.00 L125.40,427.87 L125.90,427.74 L126.40,427.60 L126.90,427.47 L127.40,427.33 L127.90,427.20 L128.40,427.06 L128.90,426.92 L129.40,426.79 L129.90,426.65 L130.40,426.52 L130.90,426.38 L131.40,426.25 L131.90,426.12 L132.40,425.99 L132.90,425.85 L133.40,425.72 L133.90,425.60 L134.40,425.47 L134.90,425.34 L135.40,425.22 L135.90,425.09 L136.40,424.97 L136.90,424.85 L137.40,424.72 L137.90,424.60 L138.40,424.48 L138.90,424.36 L139.40,424.24 L139.90,424.13 L140.40,424.01 L140.90,423.89 L141.40,423.77 L141.90,423.65 L142.40,423.52 L142.90,423.40 L143.40,423.27 L143.90,423.14 L144.40,423.01 L144.90,422.88 L145.40,422.74 L145.90,422.59 L146.40,422.44 L146.90,422.28 L147.40,422.12 L147.90,421.95 L148.40,421.77 L148.90,421.58 L149.40,421.38 L149.90,421.18 L150.40,420.95 L150.90,420.72 L151.40,420.47 L151.90,420.21 L152.40,419.93 L152.90,419.63 L153.40,419.31 L153.90,418.98 L154.40,418.62 L154.90,418.25 L155.40,417.84 L155.90,417.42 L156.40,416.97 L156.90,416.49 L157.40,415.98 L157.90,415.44 L158.40,414.87 L158.90,414.27 L159.40,413.63 L159.90,412.96 L160.40,412.25 L160.90,411.50 L161.40,410.72 L161.90,409.89 L162.40,409.02 L162.90,408.11 L163.40,407.16 L163.90,406.17 L164.40,405.12 L164.90,404.04 L165.40,402.91 L165.90,401.73 L166.40,400.50 L166.90,399.23 L167.40,397.91 L167.90,396.54 L168.40,395.13 L168.90,393.67 L169.40,392.17 L169.90,390.62 L170.40,389.03 L170.90,387.39 L171.40,385.72 L171.90,384.00 L172.40,382.25 L172.90,380.46 L173.40,378.64 L173.90,376.79 L174.40,374.91 L174.90,373.01 L175.40,371.08 L175.90,369.14 L176.40,367.18 L176.90,365.22 L177.40,363.24 L177.90,361.27 L178.40,359.29 L178.90,357.32 L179.40,355.36 L179.90,353.42 L180.40,351.50 L180.90,349.60 L181.40,347.73 L181.90,345.90 L182.40,344.11 L182.90,342.36 L183.40,340.66 L183.90,339.02 L184.40,337.43 L184.90,335.92 L185.40,334.47 L185.90,333.09 L186.40,331.79 L186.90,330.58 L187.40,329.45 L187.90,328.41 L188.40,327.46 L188.90,326.61 L189.40,325.86 L189.90,325.21 L190.40,324.66 L190.90,324.22 L191.40,323.88 L191.90,323.66 L192.40,323.54 L192.90,323.54 L193.40,323.66 L193.90,323.90 L194.40,324.27 L194.90,324.75 L195.40,325.35 L195.90,326.07 L196.40,326.90 L196.90,327.83 L197.40,328.87 L197.90,330.01 L198.40,331.24 L198.90,332.56 L199.40,333.97 L199.90,335.45 L200.40,337.01 L200.90,338.64 L201.40,340.33 L201.90,342.08 L202.40,343.88 L202.90,345.72 L203.40,347.60 L203.90,349.51 L204.40,351.45 L204.90,353.42 L205.40,355.39 L205.90,357.38 L206.40,359.37 L206.90,361.36 L207.40,363.34 L207.90,365.31 L208.40,367.27 L208.90,369.20 L209.40,371.12 L209.90,373.00 L210.40,374.85 L210.90,376.67 L211.40,378.46 L211.90,380.20 L212.40,381.90 L212.90,383.55 L213.40,385.16 L213.90,386.72 L214.40,388.23 L214.90,389.69 L215.40,391.10 L215.90,392.46 L216.40,393.76 L216.90,395.02 L217.40,396.22 L217.90,397.36 L218.40,398.46 L218.90,399.51 L219.40,400.50 L219.90,401.45 L220.40,402.34 L220.90,403.19 L221.40,404.00 L221.90,404.75 L222.40,405.47 L222.90,406.14 L223.40,406.78 L223.90,407.37 L224.40,407.93 L224.90,408.45 L225.40,408.93 L225.90,409.39 L226.40,409.81 L226.90,410.20 L227.40,410.57 L227.90,410.90 L228.40,411.22 L228.90,411.51 L229.40,411.77 L229.90,412.02 L230.40,412.25 L230.90,412.45 L231.40,412.65 L231.90,412.82 L232.40,412.98 L232.90,413.13 L233.40,413.26 L233.90,413.38 L234.40,413.49 L234.90,413.59 L235.40,413.68 L235.90,413.76 L236.40,413.84 L236.90,413.91 L237.40,413.97 L237.90,414.02 L238.40,414.07 L238.90,414.11 L239.40,414.15 L239.90,414.18 L240.40,414.22 L240.90,414.24 L241.40,414.27 L241.90,414.29 L242.40,414.31 L242.90,414.32 L243.40,414.34 L243.90,414.35 L244.40,414.36 L244.90,414.37 L245.40,414.38 L245.90,414.38 L246.40,414.39 L246.90,414.39 L247.40,414.40 L247.90,414.40 L248.40,414.40 L248.90,414.40 L249.40,414.40 L249.90,414.40 L250.40,414.40 L250.90,414.40 L251.40,414.40 L251.90,414.40 L252.40,414.40 L252.90,414.40 L253.40,414.40 L253.90,414.40 L254.40,414.39 L254.90,414.39 L255.40,414.39 L255.90,414.38 L256.40,414.38 L256.90,414.38 L257.40,414.38 L257.90,414.37 L258.40,414.37 L258.90,414.37 L259.40,414.36 L259.90,414.36 L260.40,414.36 L260.90,414.35 L261.40,414.35 L261.90,414.34 L262.40,414.34 L262.90,414.34 L263.40,414.33 L263.90,414.33 L264.40,414.32 L264.90,414.32 L265.40,414.32 L265.90,414.31 L266.40,414.31 L266.90,414.30 L267.40,414.30 L267.90,414.30 L268.40,414.29 L268.90,414.29 L269.40,414.28 L269.90,414.28 L270.40,414.27 L270.90,414.27 L271.40,414.27 L271.90,414.26 L272.40,414.26 L272.90,414.25 L273.40,414.25 L273.90,414.24 L274.40,414.24 L274.90,414.23 L275.40,414.23 L275.90,414.22 L276.40,414.22 L276.90,414.22 L277.40,414.21 L277.90,414.21 L278.40,414.20 L278.90,414.20 L279.40,414.19 L279.90,414.19 L280.40,414.18 L280.90,414.18 L281.40,414.17 L281.90,414.17" fill="none" stroke="#e82ae8" stroke-width="1.15" stroke-linejoin="round"/>
<path d="M36.90,434.41 L37.40,434.40 L37.90,434.40 L38.40,434.39 L38.90,434.39 L39.40,434.38 L39.90,434.38 L40.40,434.37 L40.90,434.36 L41.40,434.36 L41.90,434.35 L42.40,434.35 L42.90,434.34 L43.40,434.33 L43.90,434.33 L44.40,434.32 L44.90,434.32 L45.40,434.31 L45.90,434.31 L46.40,434.30 L46.90,434.29 L47.40,434.29 L47.90,434.28 L48.40,434.28 L48.90,434.27 L49.40,434.27 L49.90,434.26 L50.40,434.25 L50.90,434.25 L51.40,434.24 L51.90,434.24 L52.40,434.23 L52.90,434.22 L53.40,434.22 L53.90,434.21 L54.40,434.21 L54.90,434.20 L55.40,434.20 L55.90,434.19 L56.40,434.18 L56.90,434.18 L57.40,434.17 L57.90,434.17 L58.40,434.16 L58.90,434.15 L59.40,434.15 L59.90,434.14 L60.40,434.14 L60.90,434.13 L61.40,434.13 L61.90,434.12 L62.40,434.11 L62.90,434.11 L63.40,434.10 L63.90,434.10 L64.40,434.09 L64.90,434.08 L65.40,434.08 L65.90,434.07 L66.40,434.07 L66.90,434.06 L67.40,434.05 L67.90,434.05 L68.40,434.04 L68.90,434.03 L69.40,434.03 L69.90,434.02 L70.40,434.01 L70.90,434.01 L71.40,434.00 L71.90,433.99 L72.40,433.99 L72.90,433.98 L73.40,433.97 L73.90,433.96 L74.40,433.95 L74.90,433.94 L75.40,433.93 L75.90,433.92 L76.40,433.91 L76.90,433.90 L77.40,433.89 L77.90,433.88 L78.40,433.87 L78.90,433.86 L79.40,433.84 L79.90,433.83 L80.40,433.81 L80.90,433.80 L81.40,433.78 L81.90,433.77 L82.40,433.75 L82.90,433.73 L83.40,433.71 L83.90,433.69 L84.40,433.66 L84.90,433.64 L85.40,433.62 L85.90,433.59 L86.40,433.56 L86.90,433.53 L87.40,433.51 L87.90,433.47 L88.40,433.44 L88.90,433.41 L89.40,433.37 L89.90,433.34 L90.40,433.30 L90.90,433.26 L91.40,433.22 L91.90,433.18 L92.40,433.14 L92.90,433.10 L93.40,433.05 L93.90,433.01 L94.40,432.96 L94.90,432.91 L95.40,432.86 L95.90,432.81 L96.40,432.76 L96.90,432.71 L97.40,432.66 L97.90,432.61 L98.40,432.55 L98.90,432.50 L99.40,432.44 L99.90,432.39 L100.40,432.33 L100.90,432.28 L101.40,432.22 L101.90,432.16 L102.40,432.10 L102.90,432.05 L103.40,431.99 L103.90,431.93 L104.40,431.87 L104.90,431.81 L105.40,431.75 L105.90,431.69 L106.40,431.63 L106.90,431.56 L107.40,431.50 L107.90,431.44 L108.40,431.37 L108.90,431.30 L109.40,431.24 L109.90,431.17 L110.40,431.10 L110.90,431.03 L111.40,430.95 L111.90,430.88 L112.40,430.80 L112.90,430.72 L113.40,430.64 L113.90,430.56 L114.40,430.47 L114.90,430.39 L115.40,430.30 L115.90,430.21 L116.40,430.11 L116.90,430.01 L117.40,429.91 L117.90,429.81 L118.40,429.70 L118.90,429.59 L119.40,429.48 L119.90,429.37 L120.40,429.25 L120.90,429.13 L121.40,429.00 L121.90,428.88 L122.40,428.74 L122.90,428.61 L123.40,428.47 L123.90,428.33 L124.40,428.18 L124.90,428.03 L125.40,427.88 L125.90,427.72 L126.40,427.55 L126.90,427.38 L127.40,427.21 L127.90,427.03 L128.40,426.84 L128.90,426.64 L129.40,426.44 L129.90,426.23 L130.40,426.01 L130.90,425.78 L131.40,425.54 L131.90,425.28 L132.40,425.02 L132.90,424.73 L133.40,424.44 L133.90,424.13 L134.40,423.80 L134.90,423.45 L135.40,423.08 L135.90,422.69 L136.40,422.27 L136.90,421.84 L137.40,421.37 L137.90,420.89 L138.40,420.37 L138.90,419.82 L139.40,419.25 L139.90,418.64 L140.40,418.01 L140.90,417.34 L141.40,416.64 L141.90,415.91 L142.40,415.14 L142.90,414.34 L143.40,413.51 L143.90,412.65 L144.40,411.76 L144.90,410.85 L145.40,409.90 L145.90,408.93 L146.40,407.94 L146.90,406.93 L147.40,405.91 L147.90,404.87 L148.40,403.82 L148.90,402.76 L149.40,401.71 L149.90,400.65 L150.40,399.60 L150.90,398.57 L151.40,397.55 L151.90,396.55 L152.40,395.59 L152.90,394.65 L153.40,393.75 L153.90,392.89 L154.40,392.07 L154.90,391.31 L155.40,390.60 L155.90,389.95 L156.40,389.37 L156.90,388.85 L157.40,388.40 L157.90,388.02 L158.40,387.72 L158.90,387.49 L159.40,387.34 L159.90,387.27 L160.40,387.31 L160.90,387.48 L161.40,387.77 L161.90,388.19 L162.40,388.73 L162.90,389.37 L163.40,390.12 L163.90,390.96 L164.40,391.89 L164.90,392.90 L165.40,393.97 L165.90,395.10 L166.40,396.27 L166.90,397.48 L167.40,398.70 L167.90,399.94 L168.40,401.18 L168.90,402.42 L169.40,403.64 L169.90,404.83 L170.40,405.99 L170.90,407.12 L171.40,408.20 L171.90,409.23 L172.40,410.21 L172.90,411.14 L173.40,412.01 L173.90,412.82 L174.40,413.58 L174.90,414.27 L175.40,414.91 L175.90,415.49 L176.40,416.02 L176.90,416.49 L177.40,416.91 L177.90,417.29 L178.40,417.62 L178.90,417.91 L179.40,418.16 L179.90,418.37 L180.40,418.55 L180.90,418.69 L181.40,418.81 L181.90,418.91 L182.40,418.98 L182.90,419.03 L183.40,419.06 L183.90,419.08 L184.40,419.08 L184.90,419.07 L185.40,419.04 L185.90,419.01 L186.40,418.97 L186.90,418.92 L187.40,418.87 L187.90,418.81 L188.40,418.74 L188.90,418.67 L189.40,418.60 L189.90,418.52 L190.40,418.45 L190.90,418.37 L191.40,418.29 L191.90,418.20 L192.40,418.12 L192.90,418.04 L193.40,417.95 L193.90,417.87 L194.40,417.78 L194.90,417.70 L195.40,417.61 L195.90,417.53 L196.40,417.45 L196.90,417.36 L197.40,417.28 L197.90,417.20 L198.40,417.12 L198.90,417.04 L199.40,416.97 L199.90,416.89 L200.40,416.82 L200.90,416.74 L201.40,416.67 L201.90,416.60 L202.40,416.53 L202.90,416.46 L203.40,416.40 L203.90,416.33 L204.40,416.27 L204.90,416.21 L205.40,416.15 L205.90,416.10 L206.40,416.04 L206.90,415.99 L207.40,415.94 L207.90,415.89 L208.40,415.84 L208.90,415.79 L209.40,415.75 L209.90,415.70 L210.40,415.66 L210.90,415.62 L211.40,415.58 L211.90,415.55 L212.40,415.51 L212.90,415.48 L213.40,415.45 L213.90,415.41 L214.40,415.38 L214.90,415.36 L215.40,415.33 L215.90,415.30 L216.40,415.28 L216.90,415.25 L217.40,415.23 L217.90,415.21 L218.40,415.19 L218.90,415.17 L219.40,415.15 L219.90,415.13 L220.40,415.12 L220.90,415.10 L221.40,415.08 L221.90,415.07 L222.40,415.06 L222.90,415.04 L223.40,415.03 L223.90,415.02 L224.40,415.00 L224.90,414.99 L225.40,414.98 L225.90,414.97 L226.40,414.96 L226.90,414.95 L227.40,414.94 L227.90,414.93 L228.40,414.92 L228.90,414.91 L229.40,414.90 L229.90,414.90 L230.40,414.89 L230.90,414.88 L231.40,414.87 L231.90,414.87 L232.40,414.86 L232.90,414.85 L233.40,414.84 L233.90,414.84 L234.40,414.83 L234.90,414.82 L235.40,414.82 L235.90,414.81 L236.40,414.80 L236.90,414.80 L237.40,414.79 L237.90,414.78 L238.40,414.78 L238.90,414.77 L239.40,414.76 L239.90,414.76 L240.40,414.75 L240.90,414.74 L241.40,414.74 L241.90,414.73 L242.40,414.73 L242.90,414.72 L243.40,414.71 L243.90,414.71 L244.40,414.70 L244.90,414.70 L245.40,414.69 L245.90,414.68 L246.40,414.68 L246.90,414.67 L247.40,414.67 L247.90,414.66 L248.40,414.65 L248.90,414.65 L249.40,414.64 L249.90,414.64 L250.40,414.63 L250.90,414.62 L251.40,414.62 L251.90,414.61 L252.40,414.61 L252.90,414.60 L253.40,414.59 L253.90,414.59 L254.40,414.58 L254.90,414.58 L255.40,414.57 L255.90,414.57 L256.40,414.56 L256.90,414.55 L257.40,414.55 L257.90,414.54 L258.40,414.54 L258.90,414.53 L259.40,414.52 L259.90,414.52 L260.40,414.51 L260.90,414.51 L261.40,414.50 L261.90,414.49 L262.40,414.49 L262.90,414.48 L263.40,414.48 L263.90,414.47 L264.40,414.46 L264.90,414.46 L265.40,414.45 L265.90,414.45 L266.40,414.44 L266.90,414.44 L267.40,414.43 L267.90,414.42 L268.40,414.42 L268.90,414.41 L269.40,414.41 L269.90,414.40 L270.40,414.39 L270.90,414.39 L271.40,414.38 L271.90,414.38 L272.40,414.37 L272.90,414.37 L273.40,414.36 L273.90,414.35 L274.40,414.35 L274.90,414.34 L275.40,414.34 L275.90,414.33 L276.40,414.32 L276.90,414.32 L277.40,414.31 L277.90,414.31 L278.40,414.30 L278.90,414.30 L279.40,414.29 L279.90,414.28 L280.40,414.28 L280.90,414.27 L281.40,414.27 L281.90,414.26" fill="none" stroke="#7a2288" stroke-width="1.15" stroke-linejoin="round"/>
<path d="M36.90,434.37 L37.40,434.37 L37.90,434.36 L38.40,434.36 L38.90,434.35 L39.40,434.34 L39.90,434.34 L40.40,434.33 L40.90,434.33 L41.40,434.32 L41.90,434.31 L42.40,434.31 L42.90,434.30 L43.40,434.30 L43.90,434.29 L44.40,434.28 L44.90,434.28 L45.40,434.27 L45.90,434.27 L46.40,434.26 L46.90,434.25 L47.40,434.25 L47.90,434.24 L48.40,434.24 L48.90,434.23 L49.40,434.22 L49.90,434.22 L50.40,434.21 L50.90,434.20 L51.40,434.20 L51.90,434.19 L52.40,434.18 L52.90,434.18 L53.40,434.17 L53.90,434.16 L54.40,434.16 L54.90,434.15 L55.40,434.14 L55.90,434.13 L56.40,434.12 L56.90,434.12 L57.40,434.11 L57.90,434.10 L58.40,434.08 L58.90,434.07 L59.40,434.06 L59.90,434.04 L60.40,434.03 L60.90,434.01 L61.40,433.99 L61.90,433.97 L62.40,433.94 L62.90,433.92 L63.40,433.88 L63.90,433.85 L64.40,433.81 L64.90,433.76 L65.40,433.71 L65.90,433.65 L66.40,433.59 L66.90,433.51 L67.40,433.43 L67.90,433.34 L68.40,433.23 L68.90,433.11 L69.40,432.98 L69.90,432.83 L70.40,432.66 L70.90,432.48 L71.40,432.27 L71.90,432.04 L72.40,431.79 L72.90,431.51 L73.40,431.20 L73.90,430.86 L74.40,430.49 L74.90,430.09 L75.40,429.65 L75.90,429.16 L76.40,428.64 L76.90,428.08 L77.40,427.47 L77.90,426.81 L78.40,426.11 L78.90,425.35 L79.40,424.55 L79.90,423.69 L80.40,422.79 L80.90,421.83 L81.40,420.81 L81.90,419.75 L82.40,418.63 L82.90,417.46 L83.40,416.25 L83.90,414.98 L84.40,413.67 L84.90,412.32 L85.40,410.93 L85.90,409.50 L86.40,408.04 L86.90,406.56 L87.40,405.05 L87.90,403.52 L88.40,401.98 L88.90,400.44 L89.40,398.89 L89.90,397.35 L90.40,395.81 L90.90,394.30 L91.40,392.80 L91.90,391.33 L92.40,389.89 L92.90,388.49 L93.40,387.13 L93.90,385.81 L94.40,384.55 L94.90,383.33 L95.40,382.17 L95.90,381.06 L96.40,380.01 L96.90,379.01 L97.40,378.07 L97.90,377.17 L98.40,376.33 L98.90,375.55 L99.40,374.82 L99.90,374.13 L100.40,373.49 L100.90,372.89 L101.40,372.31 L101.90,371.75 L102.40,371.20 L102.90,370.65 L103.40,370.08 L103.90,369.50 L104.40,368.88 L104.90,368.21 L105.40,367.50 L105.90,366.72 L106.40,365.86 L106.90,364.92 L107.40,363.89 L107.90,362.76 L108.40,361.52 L108.90,360.17 L109.40,358.71 L109.90,357.12 L110.40,355.41 L110.90,353.58 L111.40,351.62 L111.90,349.54 L112.40,347.34 L112.90,345.03 L113.40,342.61 L113.90,340.09 L114.40,337.48 L114.90,334.78 L115.40,332.01 L115.90,329.18 L116.40,326.31 L116.90,323.39 L117.40,320.46 L117.90,317.52 L118.40,314.60 L118.90,311.69 L119.40,308.83 L119.90,306.03 L120.40,303.30 L120.90,300.65 L121.40,298.12 L121.90,295.70 L122.40,293.41 L122.90,291.27 L123.40,289.30 L123.90,287.49 L124.40,285.87 L124.90,284.45 L125.40,283.22 L125.90,282.21 L126.40,281.41 L126.90,280.83 L127.40,280.48 L127.90,280.35 L128.40,280.43 L128.90,280.70 L129.40,281.16 L129.90,281.81 L130.40,282.65 L130.90,283.67 L131.40,284.87 L131.90,286.25 L132.40,287.78 L132.90,289.47 L133.40,291.31 L133.90,293.28 L134.40,295.38 L134.90,297.60 L135.40,299.92 L135.90,302.34 L136.40,304.84 L136.90,307.40 L137.40,310.02 L137.90,312.69 L138.40,315.39 L138.90,318.11 L139.40,320.83 L139.90,323.55 L140.40,326.26 L140.90,328.94 L141.40,331.58 L141.90,334.17 L142.40,336.71 L142.90,339.18 L143.40,341.58 L143.90,343.89 L144.40,346.13 L144.90,348.26 L145.40,350.30 L145.90,352.24 L146.40,354.08 L146.90,355.81 L147.40,357.43 L147.90,358.94 L148.40,360.34 L148.90,361.63 L149.40,362.82 L149.90,363.91 L150.40,364.90 L150.90,365.79 L151.40,366.58 L151.90,367.29 L152.40,367.92 L152.90,368.47 L153.40,368.94 L153.90,369.35 L154.40,369.70 L154.90,369.99 L155.40,370.23 L155.90,370.43 L156.40,370.59 L156.90,370.71 L157.40,370.81 L157.90,370.88 L158.40,370.92 L158.90,370.95 L159.40,370.96 L159.90,370.96 L160.40,370.99 L160.90,371.06 L161.40,371.16 L161.90,371.31 L162.40,371.49 L162.90,371.69 L163.40,371.93 L163.90,372.18 L164.40,372.44 L164.90,372.70 L165.40,372.96 L165.90,373.20 L166.40,373.41 L166.90,373.59 L167.40,373.73 L167.90,373.81 L168.40,373.83 L168.90,373.78 L169.40,373.66 L169.90,373.46 L170.40,373.17 L170.90,372.79 L171.40,372.32 L171.90,371.76 L172.40,371.09 L172.90,370.34 L173.40,369.48 L173.90,368.54 L174.40,367.50 L174.90,366.38 L175.40,365.17 L175.90,363.89 L176.40,362.54 L176.90,361.12 L177.40,359.64 L177.90,358.11 L178.40,356.54 L178.90,354.93 L179.40,353.29 L179.90,351.63 L180.40,349.96 L180.90,348.28 L181.40,346.61 L181.90,344.94 L182.40,343.30 L182.90,341.68 L183.40,340.09 L183.90,338.54 L184.40,337.03 L184.90,335.58 L185.40,334.19 L185.90,332.86 L186.40,331.60 L186.90,330.42 L187.40,329.32 L187.90,328.31 L188.40,327.38 L188.90,326.54 L189.40,325.80 L189.90,325.16 L190.40,324.63 L190.90,324.19 L191.40,323.86 L191.90,323.64 L192.40,323.52 L192.90,323.52 L193.40,323.65 L193.90,323.90 L194.40,324.26 L194.90,324.75 L195.40,325.35 L195.90,326.07 L196.40,326.89 L196.90,327.83 L197.40,328.87 L197.90,330.01 L198.40,331.24 L198.90,332.56 L199.40,333.97 L199.90,335.45 L200.40,337.01 L200.90,338.64 L201.40,340.33 L201.90,342.08 L202.40,343.88 L202.90,345.72 L203.40,347.60 L203.90,349.51 L204.40,351.45 L204.90,353.42 L205.40,355.39 L205.90,357.38 L206.40,359.37 L206.90,361.36 L207.40,363.34 L207.90,365.31 L208.40,367.27 L208.90,369.20 L209.40,371.12 L209.90,373.00 L210.40,374.85 L210.90,376.67 L211.40,378.46 L211.90,380.20 L212.40,381.90 L212.90,383.55 L213.40,385.16 L213.90,386.72 L214.40,388.23 L214.90,389.69 L215.40,391.10 L215.90,392.46 L216.40,393.76 L216.90,395.02 L217.40,396.22 L217.90,397.36 L218.40,398.46 L218.90,399.51 L219.40,400.50 L219.90,401.45 L220.40,402.34 L220.90,403.19 L221.40,404.00 L221.90,404.75 L222.40,405.47 L222.90,406.14 L223.40,406.78 L223.90,407.37 L224.40,407.93 L224.90,408.45 L225.40,408.93 L225.90,409.39 L226.40,409.81 L226.90,410.20 L227.40,410.57 L227.90,410.90 L228.40,411.22 L228.90,411.51 L229.40,411.77 L229.90,412.02 L230.40,412.25 L230.90,412.45 L231.40,412.65 L231.90,412.82 L232.40,412.98 L232.90,413.13 L233.40,413.26 L233.90,413.38 L234.40,413.49 L234.90,413.59 L235.40,413.68 L235.90,413.76 L236.40,413.84 L236.90,413.91 L237.40,413.97 L237.90,414.02 L238.40,414.07 L238.90,414.11 L239.40,414.15 L239.90,414.18 L240.40,414.22 L240.90,414.24 L241.40,414.27 L241.90,414.29 L242.40,414.31 L242.90,414.32 L243.40,414.34 L243.90,414.35 L244.40,414.36 L244.90,414.37 L245.40,414.38 L245.90,414.38 L246.40,414.39 L246.90,414.39 L247.40,414.40 L247.90,414.40 L248.40,414.40 L248.90,414.40 L249.40,414.40 L249.90,414.40 L250.40,414.40 L250.90,414.40 L251.40,414.40 L251.90,414.40 L252.40,414.40 L252.90,414.40 L253.40,414.40 L253.90,414.40 L254.40,414.39 L254.90,414.39 L255.40,414.39 L255.90,414.38 L256.40,414.38 L256.90,414.38 L257.40,414.38 L257.90,414.37 L258.40,414.37 L258.90,414.37 L259.40,414.36 L259.90,414.36 L260.40,414.36 L260.90,414.35 L261.40,414.35 L261.90,414.34 L262.40,414.34 L262.90,414.34 L263.40,414.33 L263.90,414.33 L264.40,414.32 L264.90,414.32 L265.40,414.32 L265.90,414.31 L266.40,414.31 L266.90,414.30 L267.40,414.30 L267.90,414.30 L268.40,414.29 L268.90,414.29 L269.40,414.28 L269.90,414.28 L270.40,414.27 L270.90,414.27 L271.40,414.27 L271.90,414.26 L272.40,414.26 L272.90,414.25 L273.40,414.25 L273.90,414.24 L274.40,414.24 L274.90,414.23 L275.40,414.23 L275.90,414.22 L276.40,414.22 L276.90,414.22 L277.40,414.21 L277.90,414.21 L278.40,414.20 L278.90,414.20 L279.40,414.19 L279.90,414.19 L280.40,414.18 L280.90,414.18 L281.40,414.17 L281.90,414.17" fill="none" stroke="#1c1c1c" stroke-width="1.05" stroke-linejoin="round"/>
<path d="M104.40,408.35 L104.90,406.39 L105.40,404.33 L105.90,402.16 L106.40,399.88 L106.90,397.48 L107.40,394.98 L107.90,392.37 L108.40,389.65 L108.90,386.82 L109.40,383.89 L109.90,380.85 L110.40,377.72 L110.90,374.50 L111.40,371.19 L111.90,367.80 L112.40,364.34 L112.90,360.81 L113.40,357.22 L113.90,353.59 L114.40,349.91 L114.90,346.21 L115.40,342.49 L115.90,338.77 L116.40,335.05 L116.90,331.36 L117.40,327.70 L117.90,324.08 L118.40,320.53 L118.90,317.05 L119.40,313.66 L119.90,310.37 L120.40,307.20 L120.90,304.16 L121.40,301.26 L121.90,298.51 L122.40,295.94 L122.90,293.54 L123.40,291.34 L123.90,289.33 L124.40,287.54 L124.90,285.96 L125.40,284.61 L125.90,283.49 L126.40,282.61 L126.90,281.97 L127.40,281.57 L127.90,281.42 L128.40,281.48 L128.90,281.76 L129.40,282.24 L129.90,282.93 L130.40,283.83 L130.90,284.93 L131.40,286.22 L131.90,287.70 L132.40,289.36 L132.90,291.20 L133.40,293.20 L133.90,295.37 L134.40,297.68 L134.90,300.13 L135.40,302.71 L135.90,305.41 L136.40,308.22 L136.90,311.12 L137.40,314.11 L137.90,317.18 L138.40,320.31 L138.90,323.49 L139.40,326.72 L139.90,329.98 L140.40,333.25 L140.90,336.54 L141.40,339.83 L141.90,343.11 L142.40,346.37 L142.90,349.60 L143.40,352.80 L143.90,355.96 L144.40,359.06 L144.90,362.11 L145.40,365.09 L145.90,368.01 L146.40,370.85 L146.90,373.62 L147.40,376.30 L147.90,378.90 L148.40,381.41 L148.90,383.83 L149.40,386.16 L149.90,388.40 L150.40,390.54 L150.90,392.59 L151.40,394.55 L151.90,396.41" fill="none" stroke="#2a2ae8" stroke-width="1.10" stroke-linejoin="round"/>
<rect x="340.40" y="253.60" width="259.90" height="193.30" fill="none" stroke="#4a4a4a" stroke-width="1.1"/>
<path d="M352.50,446.90 V443.30 M376.07,446.90 V443.30 M399.64,446.90 V443.30 M423.21,446.90 V443.30 M446.78,446.90 V443.30 M470.35,446.90 V443.30 M493.92,446.90 V443.30 M517.49,446.90 V443.30 M541.06,446.90 V443.30 M564.63,446.90 V443.30 M588.20,446.90 V443.30 M364.29,446.90 V444.70 M387.86,446.90 V444.70 M411.43,446.90 V444.70 M435.00,446.90 V444.70 M458.56,446.90 V444.70 M482.13,446.90 V444.70 M505.71,446.90 V444.70 M529.27,446.90 V444.70 M552.85,446.90 V444.70 M576.41,446.90 V444.70 M340.40,279.50 H344.00 M340.40,343.90 H344.00 M340.40,408.80 H344.00 M340.40,311.60 H342.60 M340.40,376.30 H342.60 M340.40,440.80 H342.60" stroke="#4a4a4a" stroke-width="1" fill="none"/>
<text x="314.80" y="251.50" font-size="21.50" text-anchor="start" >d</text>
<text x="352.50" y="458.40" font-size="9.00" text-anchor="middle" >526</text>
<text x="376.07" y="458.40" font-size="9.00" text-anchor="middle" >527</text>
<text x="399.64" y="458.40" font-size="9.00" text-anchor="middle" >528</text>
<text x="423.21" y="458.40" font-size="9.00" text-anchor="middle" >529</text>
<text x="446.78" y="458.40" font-size="9.00" text-anchor="middle" >530</text>
<text x="470.35" y="458.40" font-size="9.00" text-anchor="middle" >531</text>
<text x="493.92" y="458.40" font-size="9.00" text-anchor="middle" >532</text>
<text x="517.49" y="458.40" font-size="9.00" text-anchor="middle" >533</text>
<text x="541.06" y="458.40" font-size="9.00" text-anchor="middle" >534</text>
<text x="564.63" y="458.40" font-size="9.00" text-anchor="middle" >535</text>
<text x="588.20" y="458.40" font-size="9.00" text-anchor="middle" >536</text>
<text x="469.80" y="469.30" font-size="10.50" text-anchor="middle" >Binding Energy/eV</text>
<text x="0" y="0" font-size="10.90" text-anchor="middle" transform="translate(334.80,354.10) rotate(-90)">Intensity/a.u.</text>
<text x="349.40" y="268.00" font-size="10.30" text-anchor="start" >O 1s</text>
<text x="422.30" y="311.90" font-size="10.00" text-anchor="start" >O</text>
<path d="M430.95,312.00 V315.70" stroke="#707070" stroke-width="1.0" fill="none"/>
<text x="521.50" y="350.20" font-size="10.00" text-anchor="start" >O</text>
<path d="M530.20,350.60 V354.00 M532.00,350.60 V354.00" stroke="#666" stroke-width="0.9" fill="none"/>
<path d="M529.30,350.60 H532.90 M529.30,354.00 H532.90" stroke="#999" stroke-width="0.5" fill="none"/>
<path d="M432.60,310.30 L440.01,314.82" stroke="#111" stroke-width="0.9"/>
<path d="M443.60,317.00 L439.02,316.44 L441.00,313.19 Z" fill="#111"/>
<path d="M520.50,349.50 L511.29,355.66" stroke="#111" stroke-width="0.9"/>
<path d="M507.80,358.00 L510.23,354.08 L512.35,357.24 Z" fill="#111"/>
<path d="M351.38,429.68 a2.30,2.30 0 1,0 4.60,0 a2.30,2.30 0 1,0 -4.60,0 M353.74,428.66 a2.30,2.30 0 1,0 4.60,0 a2.30,2.30 0 1,0 -4.60,0 M356.09,427.82 a2.30,2.30 0 1,0 4.60,0 a2.30,2.30 0 1,0 -4.60,0 M358.45,428.47 a2.30,2.30 0 1,0 4.60,0 a2.30,2.30 0 1,0 -4.60,0 M360.81,430.70 a2.30,2.30 0 1,0 4.60,0 a2.30,2.30 0 1,0 -4.60,0 M363.16,426.73 a2.30,2.30 0 1,0 4.60,0 a2.30,2.30 0 1,0 -4.60,0 M365.52,429.68 a2.30,2.30 0 1,0 4.60,0 a2.30,2.30 0 1,0 -4.60,0 M367.88,429.01 a2.30,2.30 0 1,0 4.60,0 a2.30,2.30 0 1,0 -4.60,0 M370.23,426.61 a2.30,2.30 0 1,0 4.60,0 a2.30,2.30 0 1,0 -4.60,0 M372.59,428.32 a2.30,2.30 0 1,0 4.60,0 a2.30,2.30 0 1,0 -4.60,0 M374.95,429.92 a2.30,2.30 0 1,0 4.60,0 a2.30,2.30 0 1,0 -4.60,0 M377.31,429.25 a2.30,2.30 0 1,0 4.60,0 a2.30,2.30 0 1,0 -4.60,0 M379.66,426.68 a2.30,2.30 0 1,0 4.60,0 a2.30,2.30 0 1,0 -4.60,0 M382.02,431.78 a2.30,2.30 0 1,0 4.60,0 a2.30,2.30 0 1,0 -4.60,0 M384.38,430.60 a2.30,2.30 0 1,0 4.60,0 a2.30,2.30 0 1,0 -4.60,0 M386.73,431.53 a2.30,2.30 0 1,0 4.60,0 a2.30,2.30 0 1,0 -4.60,0 M389.09,426.55 a2.30,2.30 0 1,0 4.60,0 a2.30,2.30 0 1,0 -4.60,0 M391.45,427.27 a2.30,2.30 0 1,0 4.60,0 a2.30,2.30 0 1,0 -4.60,0 M393.80,425.77 a2.30,2.30 0 1,0 4.60,0 a2.30,2.30 0 1,0 -4.60,0 M396.16,429.57 a2.30,2.30 0 1,0 4.60,0 a2.30,2.30 0 1,0 -4.60,0 M398.52,426.27 a2.30,2.30 0 1,0 4.60,0 a2.30,2.30 0 1,0 -4.60,0 M400.88,424.85 a2.30,2.30 0 1,0 4.60,0 a2.30,2.30 0 1,0 -4.60,0 M403.23,425.63 a2.30,2.30 0 1,0 4.60,0 a2.30,2.30 0 1,0 -4.60,0 M405.59,427.22 a2.30,2.30 0 1,0 4.60,0 a2.30,2.30 0 1,0 -4.60,0 M407.95,425.17 a2.30,2.30 0 1,0 4.60,0 a2.30,2.30 0 1,0 -4.60,0 M410.30,420.05 a2.30,2.30 0 1,0 4.60,0 a2.30,2.30 0 1,0 -4.60,0 M412.66,416.89 a2.30,2.30 0 1,0 4.60,0 a2.30,2.30 0 1,0 -4.60,0 M415.02,417.99 a2.30,2.30 0 1,0 4.60,0 a2.30,2.30 0 1,0 -4.60,0 M417.37,412.06 a2.30,2.30 0 1,0 4.60,0 a2.30,2.30 0 1,0 -4.60,0 M419.73,409.96 a2.30,2.30 0 1,0 4.60,0 a2.30,2.30 0 1,0 -4.60,0 M422.09,400.80 a2.30,2.30 0 1,0 4.60,0 a2.30,2.30 0 1,0 -4.60,0 M424.45,393.90 a2.30,2.30 0 1,0 4.60,0 a2.30,2.30 0 1,0 -4.60,0 M426.80,389.75 a2.30,2.30 0 1,0 4.60,0 a2.30,2.30 0 1,0 -4.60,0 M429.16,379.67 a2.30,2.30 0 1,0 4.60,0 a2.30,2.30 0 1,0 -4.60,0 M431.52,368.24 a2.30,2.30 0 1,0 4.60,0 a2.30,2.30 0 1,0 -4.60,0 M433.87,362.96 a2.30,2.30 0 1,0 4.60,0 a2.30,2.30 0 1,0 -4.60,0 M436.23,350.65 a2.30,2.30 0 1,0 4.60,0 a2.30,2.30 0 1,0 -4.60,0 M438.59,340.76 a2.30,2.30 0 1,0 4.60,0 a2.30,2.30 0 1,0 -4.60,0 M440.94,325.98 a2.30,2.30 0 1,0 4.60,0 a2.30,2.30 0 1,0 -4.60,0 M443.30,319.94 a2.30,2.30 0 1,0 4.60,0 a2.30,2.30 0 1,0 -4.60,0 M445.66,305.85 a2.30,2.30 0 1,0 4.60,0 a2.30,2.30 0 1,0 -4.60,0 M448.02,301.66 a2.30,2.30 0 1,0 4.60,0 a2.30,2.30 0 1,0 -4.60,0 M450.37,291.99 a2.30,2.30 0 1,0 4.60,0 a2.30,2.30 0 1,0 -4.60,0 M452.73,285.44 a2.30,2.30 0 1,0 4.60,0 a2.30,2.30 0 1,0 -4.60,0 M455.09,282.34 a2.30,2.30 0 1,0 4.60,0 a2.30,2.30 0 1,0 -4.60,0 M457.44,281.88 a2.30,2.30 0 1,0 4.60,0 a2.30,2.30 0 1,0 -4.60,0 M459.80,277.34 a2.30,2.30 0 1,0 4.60,0 a2.30,2.30 0 1,0 -4.60,0 M462.16,277.25 a2.30,2.30 0 1,0 4.60,0 a2.30,2.30 0 1,0 -4.60,0 M464.51,281.50 a2.30,2.30 0 1,0 4.60,0 a2.30,2.30 0 1,0 -4.60,0 M466.87,282.96 a2.30,2.30 0 1,0 4.60,0 a2.30,2.30 0 1,0 -4.60,0 M469.23,286.12 a2.30,2.30 0 1,0 4.60,0 a2.30,2.30 0 1,0 -4.60,0 M471.59,290.88 a2.30,2.30 0 1,0 4.60,0 a2.30,2.30 0 1,0 -4.60,0 M473.94,295.13 a2.30,2.30 0 1,0 4.60,0 a2.30,2.30 0 1,0 -4.60,0 M476.30,301.09 a2.30,2.30 0 1,0 4.60,0 a2.30,2.30 0 1,0 -4.60,0 M478.66,306.96 a2.30,2.30 0 1,0 4.60,0 a2.30,2.30 0 1,0 -4.60,0 M481.01,312.26 a2.30,2.30 0 1,0 4.60,0 a2.30,2.30 0 1,0 -4.60,0 M483.37,320.19 a2.30,2.30 0 1,0 4.60,0 a2.30,2.30 0 1,0 -4.60,0 M485.73,322.99 a2.30,2.30 0 1,0 4.60,0 a2.30,2.30 0 1,0 -4.60,0 M488.08,329.63 a2.30,2.30 0 1,0 4.60,0 a2.30,2.30 0 1,0 -4.60,0 M490.44,333.12 a2.30,2.30 0 1,0 4.60,0 a2.30,2.30 0 1,0 -4.60,0 M492.80,339.16 a2.30,2.30 0 1,0 4.60,0 a2.30,2.30 0 1,0 -4.60,0 M495.16,342.24 a2.30,2.30 0 1,0 4.60,0 a2.30,2.30 0 1,0 -4.60,0 M497.51,348.31 a2.30,2.30 0 1,0 4.60,0 a2.30,2.30 0 1,0 -4.60,0 M499.87,351.66 a2.30,2.30 0 1,0 4.60,0 a2.30,2.30 0 1,0 -4.60,0 M502.23,360.24 a2.30,2.30 0 1,0 4.60,0 a2.30,2.30 0 1,0 -4.60,0 M504.58,363.69 a2.30,2.30 0 1,0 4.60,0 a2.30,2.30 0 1,0 -4.60,0 M506.94,366.04 a2.30,2.30 0 1,0 4.60,0 a2.30,2.30 0 1,0 -4.60,0 M509.30,371.92 a2.30,2.30 0 1,0 4.60,0 a2.30,2.30 0 1,0 -4.60,0 M511.65,378.66 a2.30,2.30 0 1,0 4.60,0 a2.30,2.30 0 1,0 -4.60,0 M514.01,378.06 a2.30,2.30 0 1,0 4.60,0 a2.30,2.30 0 1,0 -4.60,0 M516.37,385.94 a2.30,2.30 0 1,0 4.60,0 a2.30,2.30 0 1,0 -4.60,0 M518.73,387.49 a2.30,2.30 0 1,0 4.60,0 a2.30,2.30 0 1,0 -4.60,0 M521.08,391.36 a2.30,2.30 0 1,0 4.60,0 a2.30,2.30 0 1,0 -4.60,0 M523.44,396.58 a2.30,2.30 0 1,0 4.60,0 a2.30,2.30 0 1,0 -4.60,0 M525.80,397.19 a2.30,2.30 0 1,0 4.60,0 a2.30,2.30 0 1,0 -4.60,0 M528.15,400.67 a2.30,2.30 0 1,0 4.60,0 a2.30,2.30 0 1,0 -4.60,0 M530.51,404.29 a2.30,2.30 0 1,0 4.60,0 a2.30,2.30 0 1,0 -4.60,0 M532.87,408.30 a2.30,2.30 0 1,0 4.60,0 a2.30,2.30 0 1,0 -4.60,0 M535.22,406.84 a2.30,2.30 0 1,0 4.60,0 a2.30,2.30 0 1,0 -4.60,0 M537.58,411.46 a2.30,2.30 0 1,0 4.60,0 a2.30,2.30 0 1,0 -4.60,0 M539.94,410.42 a2.30,2.30 0 1,0 4.60,0 a2.30,2.30 0 1,0 -4.60,0 M542.30,411.48 a2.30,2.30 0 1,0 4.60,0 a2.30,2.30 0 1,0 -4.60,0 M544.65,411.44 a2.30,2.30 0 1,0 4.60,0 a2.30,2.30 0 1,0 -4.60,0 M547.01,412.20 a2.30,2.30 0 1,0 4.60,0 a2.30,2.30 0 1,0 -4.60,0 M549.37,411.48 a2.30,2.30 0 1,0 4.60,0 a2.30,2.30 0 1,0 -4.60,0 M551.72,412.69 a2.30,2.30 0 1,0 4.60,0 a2.30,2.30 0 1,0 -4.60,0 M554.08,413.01 a2.30,2.30 0 1,0 4.60,0 a2.30,2.30 0 1,0 -4.60,0 M556.44,417.31 a2.30,2.30 0 1,0 4.60,0 a2.30,2.30 0 1,0 -4.60,0 M558.79,415.05 a2.30,2.30 0 1,0 4.60,0 a2.30,2.30 0 1,0 -4.60,0 M561.15,414.91 a2.30,2.30 0 1,0 4.60,0 a2.30,2.30 0 1,0 -4.60,0 M563.51,414.77 a2.30,2.30 0 1,0 4.60,0 a2.30,2.30 0 1,0 -4.60,0 M565.87,419.26 a2.30,2.30 0 1,0 4.60,0 a2.30,2.30 0 1,0 -4.60,0 M568.22,419.63 a2.30,2.30 0 1,0 4.60,0 a2.30,2.30 0 1,0 -4.60,0 M570.58,418.68 a2.30,2.30 0 1,0 4.60,0 a2.30,2.30 0 1,0 -4.60,0 M572.94,416.63 a2.30,2.30 0 1,0 4.60,0 a2.30,2.30 0 1,0 -4.60,0 M575.29,416.52 a2.30,2.30 0 1,0 4.60,0 a2.30,2.30 0 1,0 -4.60,0 M577.65,416.89 a2.30,2.30 0 1,0 4.60,0 a2.30,2.30 0 1,0 -4.60,0 M580.01,417.90 a2.30,2.30 0 1,0 4.60,0 a2.30,2.30 0 1,0 -4.60,0 M582.36,416.26 a2.30,2.30 0 1,0 4.60,0 a2.30,2.30 0 1,0 -4.60,0 M584.72,417.92 a2.30,2.30 0 1,0 4.60,0 a2.30,2.30 0 1,0 -4.60,0" fill="none" stroke="#ee3535" stroke-width="1.05"/>
<path d="M427.40,395.57 L427.90,394.02 L428.40,392.43 L428.90,390.80 L429.40,389.13 L429.90,387.43 L430.40,385.69 L430.90,383.91 L431.40,382.10 L431.90,380.25 L432.40,378.38 L432.90,376.47 L433.40,374.54 L433.90,372.58 L434.40,370.60 L434.90,368.60 L435.40,366.57 L435.90,364.53 L436.40,362.48 L436.90,360.41 L437.40,358.33 L437.90,356.24 L438.40,354.15 L438.90,352.06 L439.40,349.98 L439.90,347.89 L440.40,345.82 L440.90,343.75 L441.40,341.71 L441.90,339.67 L442.40,337.67 L442.90,335.68 L443.40,333.72 L443.90,331.80 L444.40,329.91 L444.90,328.06 L445.40,326.25 L445.90,324.49 L446.40,322.77 L446.90,321.11 L447.40,319.50 L447.90,317.95 L448.40,316.46 L448.90,315.04 L449.40,313.68 L449.90,312.40 L450.40,311.19 L450.90,310.05 L451.40,308.99 L451.90,308.01 L452.40,307.11 L452.90,306.30 L453.40,305.57 L453.90,304.93 L454.40,304.37 L454.90,303.91 L455.40,303.54 L455.90,303.26 L456.40,303.07 L456.90,302.97 L457.40,302.97 L457.90,303.06 L458.40,303.25 L458.90,303.54 L459.40,303.92 L459.90,304.40 L460.40,304.97 L460.90,305.63 L461.40,306.38 L461.90,307.21 L462.40,308.13 L462.90,309.13 L463.40,310.20 L463.90,311.36 L464.40,312.58 L464.90,313.87 L465.40,315.23 L465.90,316.66 L466.40,318.14 L466.90,319.67 L467.40,321.26 L467.90,322.90 L468.40,324.58 L468.90,326.30 L469.40,328.06 L469.90,329.86 L470.40,331.68 L470.90,333.53 L471.40,335.41 L471.90,337.30 L472.40,339.21 L472.90,341.14 L473.40,343.08 L473.90,345.02 L474.40,346.97 L474.90,348.92 L475.40,350.87 L475.90,352.81 L476.40,354.75 L476.90,356.68 L477.40,358.59 L477.90,360.49 L478.40,362.38 L478.90,364.25 L479.40,366.09 L479.90,367.92 L480.40,369.72 L480.90,371.49 L481.40,373.24 L481.90,374.96 L482.40,376.65 L482.90,378.30 L483.40,379.93 L483.90,381.52 L484.40,383.08 L484.90,384.60 L485.40,386.08 L485.90,387.53 L486.40,388.95 L486.90,390.32 L487.40,391.66 L487.90,392.96 L488.40,394.22 L488.90,395.45 L489.40,396.64 L489.90,397.78 L490.40,398.90 L490.90,399.97 L491.40,401.01 L491.90,402.01 L492.40,402.97 L492.90,403.90 L493.40,404.80 L493.90,405.66 L494.40,406.48 L494.90,407.28 L495.40,408.04 L495.90,408.76 L496.40,409.46 L496.90,410.13 L497.40,410.77 L497.90,411.37 L498.40,411.95 L498.90,412.51 L499.40,413.04 L499.90,413.54 L500.40,414.02 L500.90,414.47 L501.40,414.90 L501.90,415.31 L502.40,415.70 L502.90,416.07 L503.40,416.42 L503.90,416.74 L504.40,417.06 L504.90,417.35 L505.40,417.63 L505.90,417.89 L506.40,418.14 L506.90,418.37 L507.40,418.59 L507.90,418.80 L508.40,418.99 L508.90,419.17 L509.40,419.34 L509.90,419.50 L510.40,419.65 L510.90,419.79 L511.40,419.93 L511.90,420.05 L512.40,420.16 L512.90,420.27 L513.40,420.37 L513.90,420.47 L514.40,420.56 L514.90,420.64 L515.40,420.72 L515.90,420.79 L516.40,420.85 L516.90,420.92 L517.40,420.97 L517.90,421.03 L518.40,421.08 L518.90,421.12 L519.40,421.17 L519.90,421.21 L520.40,421.25 L520.90,421.28 L521.40,421.31 L521.90,421.34 L522.40,421.37 L522.90,421.40 L523.40,421.42 L523.90,421.44 L524.40,421.47 L524.90,421.49 L525.40,421.50 L525.90,421.52 L526.40,421.54 L526.90,421.55 L527.40,421.57 L527.90,421.58 L528.40,421.59 L528.90,421.60 L529.40,421.61 L529.90,421.62 L530.40,421.63 L530.90,421.64 L531.40,421.65 L531.90,421.66 L532.40,421.66 L532.90,421.67 L533.40,421.68 L533.90,421.68 L534.40,421.69 L534.90,421.69 L535.40,421.70 L535.90,421.70 L536.40,421.71 L536.90,421.71 L537.40,421.72 L537.90,421.72 L538.40,421.72 L538.90,421.73 L539.40,421.73 L539.90,421.74 L540.40,421.74 L540.90,421.74 L541.40,421.74 L541.90,421.75 L542.40,421.75 L542.90,421.75 L543.40,421.75 L543.90,421.76 L544.40,421.76 L544.90,421.76 L545.40,421.76 L545.90,421.76 L546.40,421.77 L546.90,421.77 L547.40,421.77 L547.90,421.77 L548.40,421.77 L548.90,421.77 L549.40,421.77 L549.90,421.78 L550.40,421.78 L550.90,421.78 L551.40,421.78 L551.90,421.78 L552.40,421.78 L552.90,421.78 L553.40,421.78 L553.90,421.78 L554.40,421.78 L554.90,421.78 L555.40,421.78 L555.90,421.78 L556.40,421.78 L556.90,421.78 L557.40,421.78 L557.90,421.78 L558.40,421.78 L558.90,421.78 L559.40,421.78 L559.90,421.78 L560.40,421.78 L560.90,421.78 L561.40,421.78 L561.90,421.78 L562.40,421.78 L562.90,421.78 L563.40,421.78 L563.90,421.78 L564.40,421.78 L564.90,421.77 L565.40,421.77 L565.90,421.77 L566.40,421.77 L566.90,421.77 L567.40,421.77 L567.90,421.77 L568.40,421.77 L568.90,421.76 L569.40,421.76 L569.90,421.76 L570.40,421.76 L570.90,421.76 L571.40,421.76 L571.90,421.75 L572.40,421.75 L572.90,421.75 L573.40,421.75 L573.90,421.75 L574.40,421.74 L574.90,421.74 L575.40,421.74 L575.90,421.74 L576.40,421.74 L576.90,421.73 L577.40,421.73 L577.90,421.73 L578.40,421.73 L578.90,421.72 L579.40,421.72 L579.90,421.72 L580.40,421.72 L580.90,421.71 L581.40,421.71 L581.90,421.71 L582.40,421.71 L582.90,421.70 L583.40,421.70 L583.90,421.70 L584.40,421.69 L584.90,421.69 L585.40,421.69 L585.90,421.68 L586.40,421.68 L586.90,421.68 L587.40,421.67" fill="none" stroke="#2f9f9f" stroke-width="1.15" stroke-linejoin="round"/>
<path d="M395.40,431.63 L395.90,431.62 L396.40,431.61 L396.90,431.61 L397.40,431.60 L397.90,431.59 L398.40,431.58 L398.90,431.58 L399.40,431.57 L399.90,431.56 L400.40,431.55 L400.90,431.55 L401.40,431.54 L401.90,431.53 L402.40,431.52 L402.90,431.52 L403.40,431.51 L403.90,431.50 L404.40,431.49 L404.90,431.48 L405.40,431.47 L405.90,431.46 L406.40,431.45 L406.90,431.44 L407.40,431.43 L407.90,431.42 L408.40,431.41 L408.90,431.40 L409.40,431.39 L409.90,431.38 L410.40,431.37 L410.90,431.35 L411.40,431.34 L411.90,431.33 L412.40,431.31 L412.90,431.30 L413.40,431.28 L413.90,431.27 L414.40,431.25 L414.90,431.23 L415.40,431.21 L415.90,431.19 L416.40,431.17 L416.90,431.15 L417.40,431.13 L417.90,431.10 L418.40,431.08 L418.90,431.05 L419.40,431.02 L419.90,430.99 L420.40,430.96 L420.90,430.92 L421.40,430.89 L421.90,430.85 L422.40,430.81 L422.90,430.77 L423.40,430.72 L423.90,430.68 L424.40,430.63 L424.90,430.57 L425.40,430.52 L425.90,430.46 L426.40,430.39 L426.90,430.33 L427.40,430.26 L427.90,430.18 L428.40,430.10 L428.90,430.02 L429.40,429.93 L429.90,429.84 L430.40,429.74 L430.90,429.64 L431.40,429.53 L431.90,429.42 L432.40,429.30 L432.90,429.17 L433.40,429.03 L433.90,428.89 L434.40,428.74 L434.90,428.59 L435.40,428.42 L435.90,428.25 L436.40,428.07 L436.90,427.88 L437.40,427.68 L437.90,427.47 L438.40,427.25 L438.90,427.02 L439.40,426.78 L439.90,426.53 L440.40,426.26 L440.90,425.99 L441.40,425.70 L441.90,425.40 L442.40,425.09 L442.90,424.76 L443.40,424.42 L443.90,424.06 L444.40,423.69 L444.90,423.31 L445.40,422.91 L445.90,422.50 L446.40,422.07 L446.90,421.62 L447.40,421.16 L447.90,420.68 L448.40,420.18 L448.90,419.67 L449.40,419.14 L449.90,418.59 L450.40,418.02 L450.90,417.44 L451.40,416.84 L451.90,416.22 L452.40,415.58 L452.90,414.92 L453.40,414.24 L453.90,413.55 L454.40,412.83 L454.90,412.10 L455.40,411.35 L455.90,410.58 L456.40,409.80 L456.90,408.99 L457.40,408.17 L457.90,407.33 L458.40,406.47 L458.90,405.60 L459.40,404.71 L459.90,403.80 L460.40,402.88 L460.90,401.94 L461.40,400.99 L461.90,400.02 L462.40,399.05 L462.90,398.05 L463.40,397.05 L463.90,396.04 L464.40,395.02 L464.90,393.98 L465.40,392.94 L465.90,391.89 L466.40,390.84 L466.90,389.78 L467.40,388.71 L467.90,387.65 L468.40,386.58 L468.90,385.51 L469.40,384.44 L469.90,383.37 L470.40,382.30 L470.90,381.24 L471.40,380.19 L471.90,379.14 L472.40,378.09 L472.90,377.06 L473.40,376.04 L473.90,375.03 L474.40,374.04 L474.90,373.06 L475.40,372.09 L475.90,371.15 L476.40,370.22 L476.90,369.31 L477.40,368.42 L477.90,367.56 L478.40,366.72 L478.90,365.91 L479.40,365.12 L479.90,364.36 L480.40,363.63 L480.90,362.94 L481.40,362.27 L481.90,361.63 L482.40,361.03 L482.90,360.46 L483.40,359.93 L483.90,359.43 L484.40,358.97 L484.90,358.55 L485.40,358.16 L485.90,357.82 L486.40,357.51 L486.90,357.25 L487.40,357.02 L487.90,356.83 L488.40,356.69 L488.90,356.58 L489.40,356.52 L489.90,356.49 L490.40,356.49 L490.90,356.52 L491.40,356.57 L491.90,356.65 L492.40,356.76 L492.90,356.90 L493.40,357.06 L493.90,357.25 L494.40,357.46 L494.90,357.70 L495.40,357.96 L495.90,358.25 L496.40,358.57 L496.90,358.90 L497.40,359.26 L497.90,359.65 L498.40,360.05 L498.90,360.48 L499.40,360.92 L499.90,361.39 L500.40,361.88 L500.90,362.38 L501.40,362.91 L501.90,363.45 L502.40,364.01 L502.90,364.59 L503.40,365.18 L503.90,365.78 L504.40,366.40 L504.90,367.04 L505.40,367.68 L505.90,368.34 L506.40,369.01 L506.90,369.69 L507.40,370.38 L507.90,371.08 L508.40,371.79 L508.90,372.50 L509.40,373.22 L509.90,373.95 L510.40,374.69 L510.90,375.43 L511.40,376.17 L511.90,376.92 L512.40,377.67 L512.90,378.42 L513.40,379.18 L513.90,379.94 L514.40,380.70 L514.90,381.45 L515.40,382.21 L515.90,382.97 L516.40,383.72 L516.90,384.48 L517.40,385.23 L517.90,385.98 L518.40,386.72 L518.90,387.46 L519.40,388.20 L519.90,388.93 L520.40,389.66 L520.90,390.38 L521.40,391.09 L521.90,391.80 L522.40,392.51 L522.90,393.20 L523.40,393.89 L523.90,394.57 L524.40,395.24 L524.90,395.91 L525.40,396.56 L525.90,397.21 L526.40,397.85 L526.90,398.48 L527.40,399.10 L527.90,399.71 L528.40,400.31 L528.90,400.90 L529.40,401.48 L529.90,402.06 L530.40,402.62 L530.90,403.17 L531.40,403.71 L531.90,404.24 L532.40,404.76 L532.90,405.27 L533.40,405.77 L533.90,406.26 L534.40,406.74 L534.90,407.21 L535.40,407.66 L535.90,408.11 L536.40,408.55 L536.90,408.98 L537.40,409.39 L537.90,409.80 L538.40,410.19 L538.90,410.58 L539.40,410.96 L539.90,411.32 L540.40,411.68 L540.90,412.03 L541.40,412.36 L541.90,412.69 L542.40,413.01 L542.90,413.32 L543.40,413.62 L543.90,413.91 L544.40,414.19 L544.90,414.47 L545.40,414.73 L545.90,414.99 L546.40,415.24 L546.90,415.48 L547.40,415.72 L547.90,415.94 L548.40,416.16 L548.90,416.37 L549.40,416.58 L549.90,416.77 L550.40,416.96 L550.90,417.15 L551.40,417.32 L551.90,417.49 L552.40,417.66 L552.90,417.82 L553.40,417.97 L553.90,418.12 L554.40,418.26 L554.90,418.40 L555.40,418.53 L555.90,418.65 L556.40,418.77 L556.90,418.89 L557.40,419.00 L557.90,419.11 L558.40,419.21 L558.90,419.31 L559.40,419.41 L559.90,419.50 L560.40,419.58 L560.90,419.67 L561.40,419.75 L561.90,419.82 L562.40,419.90 L562.90,419.97 L563.40,420.03 L563.90,420.10 L564.40,420.16 L564.90,420.22 L565.40,420.27 L565.90,420.33 L566.40,420.38 L566.90,420.42" fill="none" stroke="#2a2ae8" stroke-width="1.15" stroke-linejoin="round"/>
<path d="M353.90,432.09 L354.40,432.08 L354.90,432.07 L355.40,432.07 L355.90,432.06 L356.40,432.05 L356.90,432.05 L357.40,432.04 L357.90,432.03 L358.40,432.02 L358.90,432.02 L359.40,432.01 L359.90,432.00 L360.40,431.99 L360.90,431.99 L361.40,431.98 L361.90,431.97 L362.40,431.96 L362.90,431.96 L363.40,431.95 L363.90,431.94 L364.40,431.93 L364.90,431.93 L365.40,431.92 L365.90,431.91 L366.40,431.90 L366.90,431.90 L367.40,431.89 L367.90,431.88 L368.40,431.87 L368.90,431.86 L369.40,431.86 L369.90,431.85 L370.40,431.84 L370.90,431.83 L371.40,431.83 L371.90,431.82 L372.40,431.81 L372.90,431.80 L373.40,431.79 L373.90,431.78 L374.40,431.78 L374.90,431.77 L375.40,431.76 L375.90,431.75 L376.40,431.74 L376.90,431.73 L377.40,431.72 L377.90,431.71 L378.40,431.70 L378.90,431.69 L379.40,431.68 L379.90,431.67 L380.40,431.66 L380.90,431.65 L381.40,431.64 L381.90,431.63 L382.40,431.61 L382.90,431.60 L383.40,431.59 L383.90,431.57 L384.40,431.56 L384.90,431.55 L385.40,431.53 L385.90,431.51 L386.40,431.50 L386.90,431.48 L387.40,431.46 L387.90,431.44 L388.40,431.42 L388.90,431.40 L389.40,431.37 L389.90,431.35 L390.40,431.32 L390.90,431.29 L391.40,431.26 L391.90,431.23 L392.40,431.19 L392.90,431.15 L393.40,431.11 L393.90,431.07 L394.40,431.03 L394.90,430.98 L395.40,430.92 L395.90,430.87 L396.40,430.81 L396.90,430.74 L397.40,430.68 L397.90,430.60 L398.40,430.52 L398.90,430.44 L399.40,430.35 L399.90,430.25 L400.40,430.15 L400.90,430.03 L401.40,429.91 L401.90,429.79 L402.40,429.65 L402.90,429.51 L403.40,429.35 L403.90,429.19 L404.40,429.01 L404.90,428.82 L405.40,428.62 L405.90,428.41 L406.40,428.18 L406.90,427.94 L407.40,427.68 L407.90,427.41 L408.40,427.12 L408.90,426.81 L409.40,426.48 L409.90,426.14 L410.40,425.77 L410.90,425.39 L411.40,424.98 L411.90,424.55 L412.40,424.09 L412.90,423.61 L413.40,423.11 L413.90,422.57 L414.40,422.01 L414.90,421.43 L415.40,420.81 L415.90,420.16 L416.40,419.48 L416.90,418.76 L417.40,418.02 L417.90,417.24 L418.40,416.42 L418.90,415.57 L419.40,414.67 L419.90,413.75 L420.40,412.78 L420.90,411.77 L421.40,410.73 L421.90,409.64 L422.40,408.51 L422.90,407.34 L423.40,406.13 L423.90,404.87 L424.40,403.57 L424.90,402.23 L425.40,400.84 L425.90,399.41 L426.40,397.93 L426.90,396.41 L427.40,394.85 L427.90,393.24 L428.40,391.59 L428.90,389.90 L429.40,388.16 L429.90,386.39 L430.40,384.57 L430.90,382.71 L431.40,380.81 L431.90,378.88 L432.40,376.91 L432.90,374.90 L433.40,372.86 L433.90,370.79 L434.40,368.69 L434.90,366.55 L435.40,364.39 L435.90,362.21 L436.40,360.00 L436.90,357.78 L437.40,355.53 L437.90,353.27 L438.40,350.99 L438.90,348.71 L439.40,346.41 L439.90,344.11 L440.40,341.81 L440.90,339.51 L441.40,337.21 L441.90,334.92 L442.40,332.64 L442.90,330.37 L443.40,328.11 L443.90,325.87 L444.40,323.66 L444.90,321.47 L445.40,319.30 L445.90,317.17 L446.40,315.07 L446.90,313.01 L447.40,310.99 L447.90,309.01 L448.40,307.07 L448.90,305.18 L449.40,303.35 L449.90,301.56 L450.40,299.83 L450.90,298.16 L451.40,296.55 L451.90,295.01 L452.40,293.52 L452.90,292.10 L453.40,290.75 L453.90,289.47 L454.40,288.26 L454.90,287.12 L455.40,286.05 L455.90,285.06 L456.40,284.14 L456.90,283.29 L457.40,282.52 L457.90,281.84 L458.40,281.23 L458.90,280.70 L459.40,280.25 L459.90,279.88 L460.40,279.58 L460.90,279.36 L461.40,279.22 L461.90,279.14 L462.40,279.14 L462.90,279.21 L463.40,279.34 L463.90,279.54 L464.40,279.79 L464.90,280.11 L465.40,280.49 L465.90,280.92 L466.40,281.40 L466.90,281.94 L467.40,282.52 L467.90,283.14 L468.40,283.81 L468.90,284.52 L469.40,285.26 L469.90,286.05 L470.40,286.86 L470.90,287.70 L471.40,288.58 L471.90,289.48 L472.40,290.40 L472.90,291.35 L473.40,292.32 L473.90,293.31 L474.40,294.31 L474.90,295.33 L475.40,296.37 L475.90,297.42 L476.40,298.48 L476.90,299.55 L477.40,300.63 L477.90,301.72 L478.40,302.82 L478.90,303.92 L479.40,305.03 L479.90,306.14 L480.40,307.26 L480.90,308.38 L481.40,309.51 L481.90,310.64 L482.40,311.77 L482.90,312.91 L483.40,314.04 L483.90,315.18 L484.40,316.32 L484.90,317.47 L485.40,318.61 L485.90,319.76 L486.40,320.91 L486.90,322.06 L487.40,323.22 L487.90,324.37 L488.40,325.53 L488.90,326.69 L489.40,327.86 L489.90,329.02 L490.40,330.17 L490.90,331.31 L491.40,332.44 L491.90,333.56 L492.40,334.67 L492.90,335.77 L493.40,336.86 L493.90,337.95 L494.40,339.02 L494.90,340.09 L495.40,341.15 L495.90,342.20 L496.40,343.25 L496.90,344.29 L497.40,345.32 L497.90,346.35 L498.40,347.36 L498.90,348.38 L499.40,349.39 L499.90,350.39 L500.40,351.38 L500.90,352.38 L501.40,353.36 L501.90,354.35 L502.40,355.32 L502.90,356.30 L503.40,357.27 L503.90,358.23 L504.40,359.19 L504.90,360.15 L505.40,361.10 L505.90,362.05 L506.40,362.99 L506.90,363.93 L507.40,364.87 L507.90,365.80 L508.40,366.73 L508.90,367.65 L509.40,368.57 L509.90,369.49 L510.40,370.40 L510.90,371.30 L511.40,372.20 L511.90,373.10 L512.40,373.99 L512.90,374.88 L513.40,375.76 L513.90,376.63 L514.40,377.50 L514.90,378.36 L515.40,379.22 L515.90,380.07 L516.40,380.91 L516.90,381.75 L517.40,382.58 L517.90,383.40 L518.40,384.22 L518.90,385.02 L519.40,385.82 L519.90,386.62 L520.40,387.40 L520.90,388.17 L521.40,388.94 L521.90,389.70 L522.40,390.45 L522.90,391.19 L523.40,391.92 L523.90,392.64 L524.40,393.35 L524.90,394.05 L525.40,394.74 L525.90,395.42 L526.40,396.09 L526.90,396.75 L527.40,397.40 L527.90,398.04 L528.40,398.67 L528.90,399.29 L529.40,399.89 L529.90,400.49 L530.40,401.07 L530.90,401.65 L531.40,402.21 L531.90,402.76 L532.40,403.30 L532.90,403.83 L533.40,404.35 L533.90,404.86 L534.40,405.36 L534.90,405.84 L535.40,406.32 L535.90,406.78 L536.40,407.24 L536.90,407.68 L537.40,408.11 L537.90,408.53 L538.40,408.95 L538.90,409.35 L539.40,409.74 L539.90,410.12 L540.40,410.49 L540.90,410.85 L541.40,411.20 L541.90,411.54 L542.40,411.87 L542.90,412.19 L543.40,412.51 L543.90,412.81 L544.40,413.10 L544.90,413.39 L545.40,413.67 L545.90,413.94 L546.40,414.20 L546.90,414.45 L547.40,414.69 L547.90,414.93 L548.40,415.16 L548.90,415.38 L549.40,415.60 L549.90,415.80 L550.40,416.00 L550.90,416.20 L551.40,416.38 L551.90,416.56 L552.40,416.74 L552.90,416.91 L553.40,417.07 L553.90,417.22 L554.40,417.37 L554.90,417.52 L555.40,417.66 L555.90,417.79 L556.40,417.92 L556.90,418.05 L557.40,418.17 L557.90,418.28 L558.40,418.39 L558.90,418.50 L559.40,418.60 L559.90,418.70 L560.40,418.79 L560.90,418.88 L561.40,418.97 L561.90,419.05 L562.40,419.13 L562.90,419.21 L563.40,419.28 L563.90,419.36 L564.40,419.42 L564.90,419.49 L565.40,419.55 L565.90,419.61 L566.40,419.67 L566.90,419.72 L567.40,419.77 L567.90,419.82 L568.40,419.87 L568.90,419.92 L569.40,419.96 L569.90,420.00 L570.40,420.04 L570.90,420.08 L571.40,420.12 L571.90,420.16 L572.40,420.19 L572.90,420.22 L573.40,420.25 L573.90,420.28 L574.40,420.31 L574.90,420.34 L575.40,420.36 L575.90,420.39 L576.40,420.41 L576.90,420.43 L577.40,420.46 L577.90,420.48 L578.40,420.50 L578.90,420.51 L579.40,420.53 L579.90,420.55 L580.40,420.57 L580.90,420.58 L581.40,420.60 L581.90,420.61 L582.40,420.63 L582.90,420.64 L583.40,420.65 L583.90,420.66 L584.40,420.67 L584.90,420.69 L585.40,420.70 L585.90,420.71 L586.40,420.72 L586.90,420.72 L587.40,420.73" fill="none" stroke="#1c1c1c" stroke-width="1.05" stroke-linejoin="round"/>
</svg>
</body></html>
